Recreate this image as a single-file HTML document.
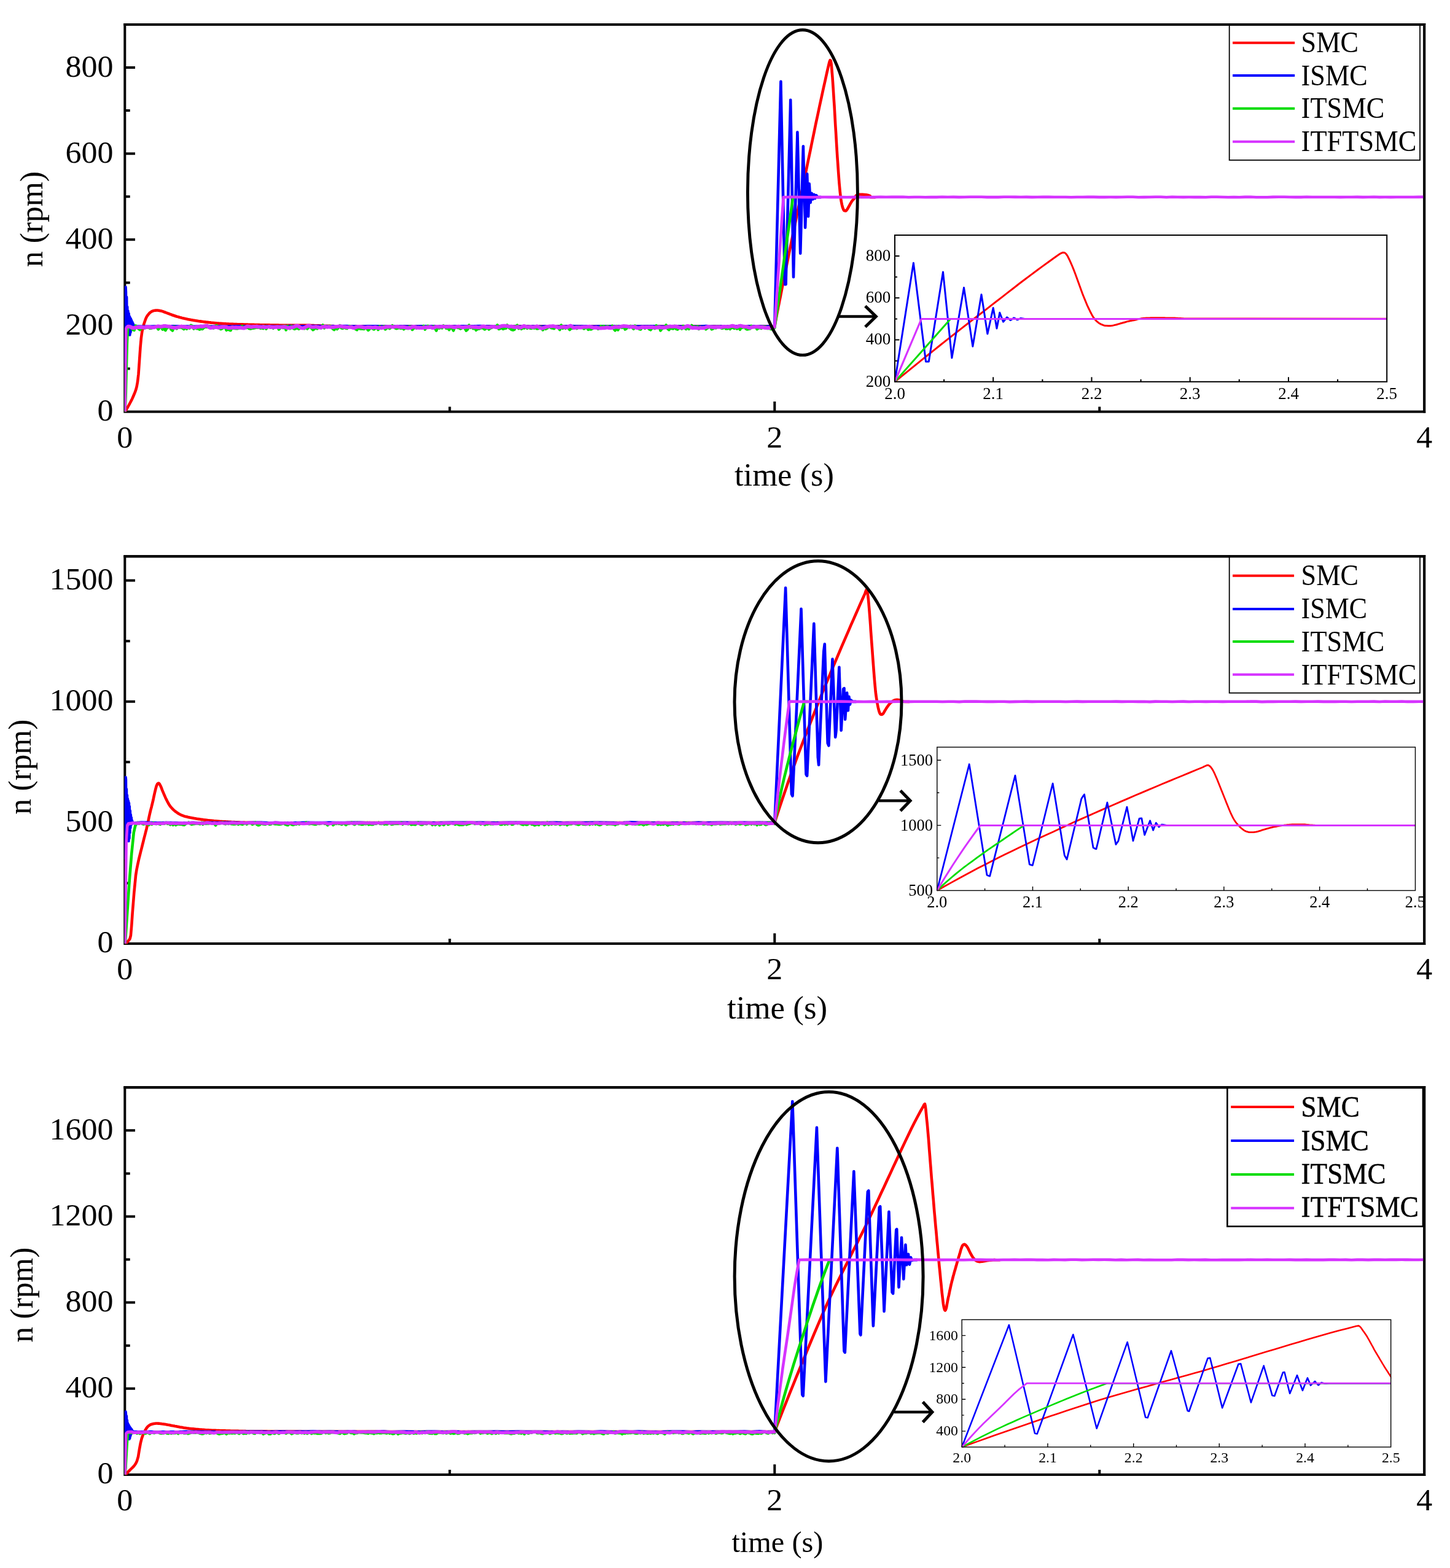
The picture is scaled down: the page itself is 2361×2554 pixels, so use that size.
<!DOCTYPE html>
<html lang="en">
<head>
<meta charset="utf-8">
<title>Speed response comparison: SMC, ISMC, ITSMC, ITFTSMC</title>
<style>
html,body{margin:0;padding:0;background:#fff;}
body{width:2361px;height:2554px;overflow:hidden;font-family:"Liberation Serif",serif;}
svg{display:block;position:absolute;left:0;top:0;}
text{fill:#000;}
</style>
</head>
<body>
<svg width="2361" height="2554" viewBox="0 0 2361 2554">
<rect width="2361" height="2554" fill="#fff"/>
<g id="plot1">
<rect x="203.3" y="40" width="2116" height="630.6" fill="none" stroke="#000" stroke-width="4"/>
<path d="M203.3,530.5h16.7M203.3,390.3h16.7M203.3,250.2h16.7M203.3,110.1h16.7M203.3,600.5h8.4M203.3,460.4h8.4M203.3,320.3h8.4M203.3,180.1h8.4M1261.3,670.6v-16.7M732.3,670.6v-8.0M1790.3,670.6v-8.0" stroke="#000" stroke-width="4" fill="none"/>
<clipPath id="c0"><rect x="202.7" y="40" width="2116.4" height="631"/></clipPath>
<g clip-path="url(#c0)" fill="none" stroke-linejoin="round" stroke-linecap="butt">
<path d="M203.3,670.7 204.8,668.5 206.3,666.1 207.8,663.6 209.2,661 210.7,658.3 212.2,655.5 213.7,652.6 215.2,649.7 216.6,646.5 218.1,643 219.6,639.4 221.1,635.3 222.6,629.8 224,622.2 225.5,609.2 227,587.3 228.5,565.9 229.9,550.5 231.4,539.7 232.9,532.8 234.4,527.6 235.9,523.3 237.3,519.2 238.8,516.1 240.3,513.8 241.8,511.9 243.2,510.2 244.7,508.8 246.2,507.8 247.7,507 249.2,506.4 250.6,506 252.1,505.8 253.6,505.6 255.1,505.5 256.6,505.5 258,505.7 259.5,505.9 261,506.2 262.5,506.5 263.9,506.9 265.4,507.4 266.9,508 268.4,508.5 269.9,509.1 271.3,509.6 272.8,510.2 274.3,510.8 275.8,511.3 277.3,511.9 278.7,512.4 280.2,513 281.7,513.5 283.2,514 284.6,514.5 286.1,515 287.6,515.5 289.1,515.9 290.6,516.3 292,516.7 293.5,517.1 295,517.5 296.5,517.9 297.9,518.2 299.4,518.6 300.9,518.9 302.4,519.3 303.9,519.6 305.3,519.9 306.8,520.2 308.3,520.5 309.8,520.8 311.3,521.1 312.7,521.3 314.2,521.6 315.7,521.8 317.2,522.1 318.6,522.3 320.1,522.5 321.6,522.7 323.1,523 324.6,523.2 326,523.4 327.5,523.6 329,523.8 330.5,524 332,524.2 333.4,524.4 334.9,524.6 336.4,524.8 337.9,524.9 339.3,525.1 340.8,525.3 342.3,525.4 343.8,525.6 345.3,525.7 346.7,525.8 348.2,526 349.7,526.1 351.2,526.2 352.6,526.4 354.1,526.5 355.6,526.6 357.1,526.7 358.6,526.8 360,526.9 361.5,527 363,527.1 364.5,527.2 366,527.3 367.4,527.4 368.9,527.5 370.4,527.5 371.9,527.6 373.3,527.7 374.8,527.7 376.3,527.8 377.8,527.8 379.3,527.9 380.7,528 382.2,528 383.7,528.1 385.2,528.1 386.7,528.2 388.1,528.2 389.6,528.2 391.1,528.3 392.6,528.3 394,528.4 395.5,528.4 397,528.5 398.5,528.5 400,528.5 401.4,528.6 402.9,528.6 404.4,528.7 405.9,528.7 407.4,528.8 408.8,528.8 410.3,528.9 411.8,528.9 413.3,528.9 414.7,529 416.2,529 417.7,529 419.2,529.1 420.7,529.1 422.1,529.1 423.6,529.2 425.1,529.2 426.6,529.2 428,529.3 429.5,529.3 431,529.3 432.5,529.3 434,529.4 435.4,529.4 436.9,529.4 438.4,529.4 439.9,529.5 441.4,529.5 442.8,529.5 444.3,529.5 445.8,529.6 447.3,529.6 448.7,529.6 450.2,529.6 451.7,529.6 453.2,529.6 454.7,529.7 456.1,529.7 457.6,529.7 459.1,529.7 460.6,529.7 462.1,529.7 463.5,529.7 465,529.7 466.5,529.7 468,529.7 469.4,529.7 470.9,529.7 472.4,529.8 473.9,529.8 475.4,529.8 476.8,529.8 478.3,529.8 479.8,529.8 481.3,529.8 482.7,529.8 484.2,529.8 485.7,529.8 487.2,529.8 488.7,529.8 490.1,529.8 491.6,529.9 493.1,529.9 494.6,529.9 496.1,529.9 497.5,529.9 499,529.9 500.5,529.9 502,529.9 503.4,529.9 504.9,529.9 506.4,530 507.9,530 509.4,530.1 510.8,530.1 512.3,530.2 513.8,530.2 515.3,530.3 516.8,530.3 518.2,530.4 519.7,530.4 521.2,530.5 522.7,530.5 524.1,530.5 525.6,530.6 527.1,530.6 528.6,530.7 530.1,530.7 531.5,530.8 533,530.8 534.5,530.9 536,530.9 537.4,530.9 538.9,531 540.4,531 541.9,531.1 543.4,531.1 544.8,531.2 546.3,531.2 547.8,531.2 549.3,531.3 550.8,531.3 552.2,531.4 553.7,531.4 555.2,531.5 556.7,531.5 1261.3,531.5 1264.4,515 1267.4,499.6 1270.5,484.2 1273.5,468.9 1276.6,453.7 1279.6,438.4 1282.7,423.3 1285.7,408.2 1288.8,393.2 1291.8,378.2 1294.9,363.2 1297.9,348.4 1301,333.6 1304,318.9 1307.1,304.3 1310.1,289.7 1313.2,275 1316.2,260.4 1319.3,245.7 1322.3,230.9 1325.4,216 1328.4,201.3 1331.5,186.9 1334.5,172.6 1337.6,158.5 1340.6,144.6 1343.7,130.7 1346.7,117.1 1349.8,103.7 1349.8,103.7 1350.4,101.3 1351,99.6 1351.6,98.2 1352.3,98.4 1352.9,100 1353.5,103.9 1354.1,109.4 1354.7,117 1355.4,125.1 1356,133.6 1356.6,142.7 1357.2,152.1 1357.8,161.9 1358.5,172 1359.1,182.7 1359.7,193.6 1360.3,204.4 1361,215 1361.6,225.5 1362.2,235.9 1362.8,245.9 1363.4,255.5 1364.1,264.8 1364.7,273.8 1365.3,282.3 1365.9,290.4 1366.5,298.4 1367.2,305.7 1367.8,312.3 1368.4,317.8 1369,322.8 1369.6,327 1370.3,330.5 1370.9,333.5 1371.5,336 1372.1,338 1372.7,339.7 1373.4,341.3 1374,342.4 1374.6,343 1375.2,343.2 1375.9,343.3 1376.5,343.4 1377.1,343.5 1377.7,343.1 1378.3,342.5 1379,341.6 1379.6,340.8 1380.2,339.9 1380.8,338.8 1381.4,337.7 1382.1,336.5 1382.7,335.4 1383.3,334.3 1383.9,333.2 1384.5,332.1 1385.2,330.9 1385.8,329.9 1386.4,328.8 1387,327.9 1387.6,327.1 1388.3,326.3 1388.9,325.6 1389.5,324.9 1390.1,324.2 1390.8,323.4 1391.4,322.3 1392,321.2 1392.6,320.3 1393.2,319.5 1393.9,318.7 1394.5,318.2 1395.1,317.8 1395.7,317.6 1396.3,317.4 1397,317.3 1397.6,317.1 1398.2,317 1398.8,316.9 1399.4,316.8 1400.1,316.8 1400.7,316.8 1401.3,316.8 1401.9,316.8 1402.6,316.8 1403.2,316.8 1403.8,316.8 1404.4,316.8 1405,316.9 1405.7,316.9 1406.3,317 1406.9,317 1407.5,317.1 1408.1,317.1 1408.8,317.2 1409.4,317.2 1410,317.3 1410.6,317.3 1411.2,317.4 1411.9,317.6 1412.5,317.7 1413.1,317.9 1413.7,318 1414.3,318.2 1415,318.4 1415.6,318.6 1416.2,318.9 1416.8,319.1 1417.5,321.2 1425.5,321.2" stroke="#ff0000" stroke-width="4.6" />
<path d="M204.1,591.5 204.5,467.5 204.9,475.7 205.5,532.7 206.1,483.9 206.6,533.6 207.2,499.7 207.8,536.1 208.4,506.6 209,540.8 209.6,510.9 210.1,545.2 210.7,515.2 211.3,545.5 211.9,517.6 212.5,541.4 213.1,519.9 213.6,536.6 214.2,522.2 214.8,533.8 215.4,524.7 216,532.8 216.6,527.3 217.1,532.5 217.7,530 218.3,532.5 219.8,531.5 232,531.8 244.3,531.8 256.5,531.4 268.8,531.4 281,531.4 293.2,531.6 305.5,531.5 317.7,531.7 330,531 342.2,531.9 354.5,531.5 366.7,531.7 378.9,531.5 391.2,531.4 403.4,531.6 415.7,531.7 427.9,531.4 440.1,531.5 452.4,531.7 464.6,531.3 476.9,531.1 489.1,531.6 501.3,531.3 513.6,531 525.8,531.3 538.1,531.4 550.3,531.2 562.6,531.1 574.8,531.5 587,531.7 599.3,531.4 611.5,531.3 623.8,531.6 636,531.7 648.2,531.4 660.5,531.6 672.7,531.8 685,531.4 697.2,531.3 709.4,531.6 721.7,531.6 733.9,531.8 746.2,531.2 758.4,531.3 770.7,531.3 782.9,531.1 795.1,531.5 807.4,531.6 819.6,531.3 831.9,531.8 844.1,531.7 856.3,531.7 868.6,531.6 880.8,531.7 893.1,531.2 905.3,531.7 917.5,531.7 929.8,531.1 942,531.6 954.3,531.4 966.5,531.7 978.8,531.4 991,531.5 1003.2,531.6 1015.5,531.3 1027.7,531.6 1040,531.5 1052.2,531.6 1064.4,531.4 1076.7,531.8 1088.9,531.7 1101.2,531.5 1113.4,531.7 1125.6,531.8 1137.9,531.9 1150.1,531.1 1162.4,531.7 1174.6,531.6 1186.9,531.5 1199.1,531.2 1211.3,531.8 1223.6,531.2 1235.8,531.6 1248.1,531.8 1260.3,531.1 1261.3,531.5 1271.1,143 1271.4,132.7 1271.6,145.7 1277.7,450 1278,463.1 1278.2,463.2 1279.3,463.2 1279.6,463.1 1279.8,452.8 1287,173 1287.2,162.8 1287.5,178.7 1291.7,435.3 1292,451.1 1292.2,441.6 1298.2,224.8 1298.4,215.3 1298.7,226.1 1302.9,401.8 1303.2,412.6 1303.5,402.8 1307.6,248.2 1307.9,238.4 1308.1,249 1310.9,360 1311.1,370.6 1311.4,363.2 1313.9,290.7 1314.2,283.3 1314.5,292.8 1315.8,342.9 1316.1,352.4 1316.4,343.6 1317.4,308.1 1317.7,299.3 1318,303.5 1319.3,325.8 1319.6,330 1319.9,328 1321.3,316.7 1321.6,314.7 1321.9,316.1 1323.2,323.1 1323.5,324.5 1323.7,323.4 1325,317.9 1325.3,316.8 1325.6,317.7 1326.9,322.2 1327.2,323.1 1327.4,322.4 1328.7,318.9 1329,318.2 1329.3,318.4 1331.1,321.1 1337.1,321.1" stroke="#0000ff" stroke-width="4.6" />
<path d="M203.6,670.6 204.8,640 206.8,560 207.8,536 209.3,533.4 211.6,531.4 213.9,534.5 216.2,537 218.5,537.9 220.8,530.5 223.2,532.9 225.5,535.4 227.8,537.1 230.1,534.8 232.4,532.5 234.7,534.6 237,534 239.3,533.6 241.6,532.6 243.9,534.8 246.3,534.6 248.6,533.8 250.9,533.6 253.2,531.5 255.5,533.1 257.8,536.4 260.1,533.6 262.4,531.2 264.7,536.6 267,535 269.4,538.1 271.7,534.1 274,533.1 276.3,531.2 278.6,536.6 280.9,538.5 283.2,532.4 285.5,532.7 287.8,535.2 290.1,532.4 292.5,533.5 294.8,533.3 297.1,534.4 299.4,536.1 301.7,534 304,535.8 306.3,533.2 308.6,534.6 310.9,529.8 313.2,531.2 315.6,535.6 317.9,532.8 320.2,535.1 322.5,535.1 324.8,536.6 327.1,535.6 329.4,536 331.7,533.8 334,532.6 336.3,532.6 338.7,533 341,531.8 343.3,532.9 345.6,533.8 347.9,534.5 350.2,533.3 352.5,530.2 354.8,533.9 357.1,534.4 359.4,536.1 361.8,535.1 364.1,532.7 366.4,532.6 368.7,537.9 371,535.5 373.3,537.6 375.6,538.2 377.9,532.4 380.2,534.8 382.5,534.9 384.9,535.1 387.2,535.1 389.5,534.4 391.8,534.3 394.1,531.1 396.4,533.7 398.7,532.5 401,534.2 403.3,533.1 405.6,535.2 408,535.6 410.3,534.6 412.6,534.6 414.9,534.2 417.2,533.1 419.5,533.7 421.8,533 424.1,534.8 426.4,534 428.7,535.1 431,531.4 433.4,535.7 435.7,532.5 438,532.6 440.3,533.6 442.6,532.9 444.9,534.6 447.2,532.9 449.5,531.9 451.8,532.4 454.1,536.6 456.5,534.1 458.8,531.7 461.1,534 463.4,531 465.7,537.5 468,531 470.3,534.9 472.6,535.1 474.9,531.2 477.2,534.6 479.6,535.9 481.9,534.9 484.2,534.5 486.5,535.9 488.8,534.3 491.1,534.7 493.4,533.8 495.7,535.2 498,532.2 500.3,535.5 502.7,533 505,531.9 507.3,534.7 509.6,537.3 511.9,535.9 514.2,533 516.5,535.4 518.8,533.1 521.1,533.8 523.4,534.2 525.8,529.5 528.1,534.4 530.4,532 532.7,532.6 535,531.1 537.3,531 539.6,532.2 541.9,535.6 544.2,537.2 546.5,534 548.9,536.1 551.2,533.5 553.5,530.3 555.8,534.3 558.1,534.9 560.4,533.2 562.7,534.6 565,535.1 567.3,532.3 569.6,531.1 572,533.6 574.3,533.6 576.6,533.3 578.9,535.9 581.2,537.4 583.5,533.2 585.8,535.4 588.1,535.8 590.4,535.4 592.7,536 595.1,533.2 597.4,535.4 599.7,537.9 602,535.6 604.3,532.8 606.6,535.2 608.9,536.5 611.2,534.7 613.5,532.9 615.8,537 618.2,531.6 620.5,535 622.8,534 625.1,531.7 627.4,536.4 629.7,534.7 632,531.7 634.3,535.2 636.6,533.2 638.9,530.3 641.2,532.7 643.6,534.5 645.9,535.2 648.2,534.3 650.5,534.1 652.8,534.9 655.1,533.6 657.4,536.3 659.7,534.3 662,534.6 664.3,535.1 666.7,531.9 669,532.6 671.3,537 673.6,534.7 675.9,533.4 678.2,534.7 680.5,533.1 682.8,534.5 685.1,532.7 687.4,534.5 689.8,530.9 692.1,536.6 694.4,533 696.7,530.9 699,533.6 701.3,533.3 703.6,534.3 705.9,531.8 708.2,534.8 710.5,538.5 712.9,531.5 715.2,534.7 717.5,533.4 719.8,534.4 722.1,530.5 724.4,531.8 726.7,534.9 729,533.9 731.3,537.2 733.6,532.6 736,534.3 738.3,538.5 740.6,532.5 742.9,532.2 745.2,533.9 747.5,533.9 749.8,535.6 752.1,534.3 754.4,532.5 756.7,534.4 759.1,538.5 761.4,536.5 763.7,529.5 766,533.7 768.3,532.3 770.6,535.2 772.9,533.7 775.2,537.8 777.5,535.8 779.8,535.7 782.2,534.4 784.5,533.9 786.8,534.7 789.1,536.5 791.4,535 793.7,533.3 796,536.5 798.3,534.4 800.6,533.8 802.9,532.5 805.3,532.9 807.6,532.8 809.9,529.5 812.2,536 814.5,535.1 816.8,533.6 819.1,536 821.4,534.9 823.7,534.7 826,529.5 828.4,533.5 830.7,535 833,537.1 835.3,537.6 837.6,536.8 839.9,531.7 842.2,529.7 844.5,535.1 846.8,534.1 849.1,535.9 851.4,533.8 853.8,534.4 856.1,531.1 858.4,534.9 860.7,533.1 863,534.7 865.3,534.9 867.6,533.8 869.9,534.6 872.2,534 874.5,535.5 876.9,535 879.2,532.9 881.5,532.9 883.8,537.4 886.1,533.8 888.4,535.9 890.7,534.8 893,532.9 895.3,532.5 897.6,534.2 900,534.5 902.3,535.2 904.6,531.5 906.9,532.8 909.2,533.8 911.5,537.1 913.8,529.5 916.1,534.9 918.4,532.9 920.7,534.8 923.1,533 925.4,534.7 927.7,537.1 930,534.7 932.3,534.8 934.6,534.7 936.9,532.5 939.2,535.1 941.5,533.6 943.8,532.4 946.2,533.9 948.5,533.6 950.8,535.5 953.1,533.9 955.4,533 957.7,536.8 960,535.9 962.3,536.5 964.6,535.2 966.9,533.8 969.3,533.2 971.6,533.5 973.9,535.8 976.2,534.2 978.5,531.1 980.8,533.9 983.1,531.2 985.4,534.3 987.7,531.7 990,531.5 992.4,534.2 994.7,533.8 997,530.8 999.3,535.5 1001.6,538.2 1003.9,531.1 1006.2,537.5 1008.5,532.7 1010.8,533 1013.1,533.7 1015.5,531.2 1017.8,536.5 1020.1,535 1022.4,532.5 1024.7,533.5 1027,531 1029.3,533.3 1031.6,535.8 1033.9,530.7 1036.2,533.1 1038.6,534.3 1040.9,536 1043.2,536.6 1045.5,533.1 1047.8,532.6 1050.1,534.9 1052.4,533.3 1054.7,533.4 1057,536.1 1059.3,537.3 1061.6,534.5 1064,533.6 1066.3,535.1 1068.6,530.3 1070.9,534 1073.2,531.9 1075.5,538.5 1077.8,535.4 1080.1,534.3 1082.4,533.6 1084.7,529.5 1087.1,535.4 1089.4,537.2 1091.7,532.6 1094,535.3 1096.3,535.4 1098.6,531 1100.9,535.8 1103.2,536.6 1105.5,534.4 1107.8,533.9 1110.2,535.5 1112.5,531 1114.8,534.2 1117.1,536.1 1119.4,531.6 1121.7,535.9 1124,533.2 1126.3,529.9 1128.6,533.8 1130.9,532.1 1133.3,534.6 1135.6,531.7 1137.9,536 1140.2,532.6 1142.5,534.7 1144.8,532.8 1147.1,533.4 1149.4,536.3 1151.7,534.4 1154,533.2 1156.4,531.6 1158.7,536.3 1161,535.4 1163.3,533.4 1165.6,534.5 1167.9,532 1170.2,532 1172.5,532.4 1174.8,534.7 1177.1,534.6 1179.5,532.5 1181.8,535.4 1184.1,535.5 1186.4,534.3 1188.7,536 1191,533.4 1193.3,533.8 1195.6,534.9 1197.9,533.9 1200.2,535.5 1202.6,531.6 1204.9,536.8 1207.2,532.5 1209.5,533.7 1211.8,531.3 1214.1,535.2 1216.4,536.5 1218.7,536.1 1221,535.6 1223.3,531 1225.7,532.5 1228,533.1 1230.3,532.2 1232.6,536.2 1234.9,534.4 1237.2,534 1239.5,535 1241.8,532.1 1244.1,532.2 1246.4,532.3 1248.8,535 1251.1,534.7 1253.4,535.1 1255.7,536.1 1258,531.4 1260.3,532.9 1261.3,534 1291.2,321.1 1297.2,321.1" stroke="#00dc00" stroke-width="4.6" />
<path d="M203.5,670.6 204.2,600 205.3,535 206.8,532.2 209.4,531.8 212,532.2 214.6,533.5 217.2,534.2 219.8,533.8 222.4,533.1 225.1,533.1 227.7,533.1 230.3,533.1 232.9,533.3 235.5,533.5 238.1,532.8 240.7,532.2 243.3,532.7 245.9,533.2 248.5,533.3 251.1,533.2 253.7,532.4 256.3,531.6 259,531.6 261.6,532 264.2,531.7 266.8,531 269.4,531 272,531.6 274.6,531.8 277.2,532.1 279.8,533.1 282.4,533.7 285,533.9 287.6,533.5 290.2,532.9 292.9,532.1 295.5,531.6 298.1,532.4 300.7,532.2 303.3,532.9 305.9,533.2 308.5,532.7 311.1,532.1 313.7,532.9 316.3,533.6 318.9,533.3 321.5,532.1 324.1,532.2 326.8,531.4 329.4,532.1 332,531.5 334.6,530.7 337.2,530.6 339.8,532.8 342.4,533.9 345,533.7 347.6,533 350.2,533 352.8,532.8 355.4,533.6 358,533.4 360.7,532.9 363.3,532.6 365.9,532.5 368.5,532.7 371.1,533.9 373.7,534.1 376.3,533.7 378.9,533.3 381.5,533.4 384.1,533.3 386.7,533.6 389.3,533.6 391.9,533.6 394.6,534.3 397.2,534.5 399.8,533.2 402.4,531.6 405,531.7 407.6,532.3 410.2,532.7 412.8,531.9 415.4,532.1 418,531.6 420.6,532.6 423.2,532.6 425.8,532.8 428.5,532.1 431.1,533.1 433.7,532.7 436.3,532.4 438.9,532 441.5,532.8 444.1,533.1 446.7,533 449.3,532.7 451.9,532.5 454.5,532.8 457.1,532.8 459.7,532.6 462.4,532.3 465,532.6 467.6,533.9 470.2,534 472.8,533.5 475.4,533.3 478,532.8 480.6,531.4 483.2,530.6 485.8,531.2 488.4,533.2 491,534.2 493.6,534.5 496.3,533.5 498.9,532 501.5,530.6 504.1,530.7 506.7,532.4 509.3,532.7 511.9,532.5 514.5,532.1 517.1,532.8 519.7,533.3 522.3,533.7 524.9,532.4 527.5,532.1 530.2,532.2 532.8,532.8 535.4,532.2 538,532.7 540.6,532.7 543.2,532.9 545.8,532.1 548.4,532.1 551,531.6 553.6,531.6 556.2,531.6 558.8,532.6 561.4,532.4 564.1,533 566.7,533 569.3,532.8 571.9,532.5 574.5,533.7 577.1,534.2 579.7,532.9 582.3,532.1 584.9,532 587.5,532.2 590.1,532.9 592.7,533.6 595.3,533.7 598,533.1 600.6,532.9 603.2,533.2 605.8,533.5 608.4,533.4 611,532.9 613.6,533.6 616.2,534.3 618.8,533.9 621.4,533.7 624,533.8 626.6,533.1 629.2,532.4 631.9,532.2 634.5,532.3 637.1,532.2 639.7,532.6 642.3,532.4 644.9,532 647.5,531.8 650.1,532.6 652.7,532.8 655.3,532.5 657.9,532.9 660.5,533.4 663.1,533.9 665.8,533.9 668.4,534 671,532.6 673.6,532 676.2,532.6 678.8,533.7 681.4,533.6 684,533.7 686.6,534 689.2,533.6 691.8,533.3 694.4,533.1 697,533.2 699.7,532.3 702.3,533.1 704.9,534.1 707.5,533.3 710.1,532.1 712.7,531.9 715.3,532.6 717.9,532.3 720.5,531.7 723.1,532 725.7,532.2 728.3,532.4 730.9,531.8 733.5,531.9 736.2,532.3 738.8,533 741.4,533 744,532.1 746.6,531.7 749.2,532.4 751.8,533.1 754.4,533.3 757,532.7 759.6,532.5 762.2,532.5 764.8,531.9 767.4,532.4 770.1,532.5 772.7,532.7 775.3,532.6 777.9,533.3 780.5,533.4 783.1,532.6 785.7,531.7 788.3,531.6 790.9,532.6 793.5,533.1 796.1,533.3 798.7,532.6 801.3,532.3 804,532 806.6,532.7 809.2,533.2 811.8,532.8 814.4,532.1 817,531 819.6,530.7 822.2,530.7 824.8,530.9 827.4,531.5 830,532 832.6,531.6 835.2,532.3 837.9,532.9 840.5,532.7 843.1,532.2 845.7,533.4 848.3,533.4 850.9,531.9 853.5,530.9 856.1,532 858.7,532.8 861.3,532.7 863.9,532.1 866.5,532.9 869.1,532.8 871.8,532.3 874.4,531.3 877,532.7 879.6,534.1 882.2,534.8 884.8,534 887.4,533.3 890,532.1 892.6,531.9 895.2,531.4 897.8,531.5 900.4,531.1 903,531.6 905.7,532.4 908.3,533.2 910.9,533.5 913.5,532.7 916.1,532.6 918.7,532.6 921.3,533.4 923.9,532.9 926.5,531.5 929.1,530.6 931.7,532.2 934.3,533.9 936.9,533.8 939.6,533.2 942.2,533.3 944.8,533.6 947.4,533 950,532.6 952.6,532.6 955.2,532.6 957.8,531.9 960.4,531.8 963,532.7 965.6,533.6 968.2,533.7 970.8,533.5 973.5,534.3 976.1,534.5 978.7,534.4 981.3,534.3 983.9,534.3 986.5,533.7 989.1,533.3 991.7,534.1 994.3,534.3 996.9,533.8 999.5,533.1 1002.1,532.4 1004.7,532.5 1007.4,532.7 1010,532.3 1012.6,531.5 1015.2,531.1 1017.8,531.2 1020.4,531.4 1023,531.9 1025.6,532.6 1028.2,532.3 1030.8,532.4 1033.4,532.5 1036,533.8 1038.6,534.2 1041.3,534 1043.9,533.3 1046.5,532.8 1049.1,533.2 1051.7,533.1 1054.3,533.1 1056.9,532.7 1059.5,533 1062.1,532.7 1064.7,533.6 1067.3,533.5 1069.9,533.4 1072.5,532.7 1075.2,533.2 1077.8,533.4 1080.4,533.4 1083,533.6 1085.6,532.8 1088.2,532.3 1090.8,531.5 1093.4,532.1 1096,531.8 1098.6,531.7 1101.2,531.6 1103.8,532.9 1106.4,533.7 1109.1,533.8 1111.7,533.7 1114.3,533.2 1116.9,531.9 1119.5,530.9 1122.1,531.5 1124.7,532.9 1127.3,534.2 1129.9,533.9 1132.5,533.9 1135.1,534.2 1137.7,534.8 1140.3,534 1143,534.3 1145.6,534.3 1148.2,533.6 1150.8,532.5 1153.4,532 1156,532.2 1158.6,532.4 1161.2,533 1163.8,533 1166.4,532.6 1169,532.8 1171.6,532.6 1174.2,533.1 1176.9,532.1 1179.5,532.3 1182.1,531.9 1184.7,532.4 1187.3,532.1 1189.9,531.4 1192.5,530.7 1195.1,531.2 1197.7,532.5 1200.3,532.5 1202.9,531.2 1205.5,530.6 1208.1,531.2 1210.8,532 1213.4,531.9 1216,532.3 1218.6,533.3 1221.2,534 1223.8,533.2 1226.4,532.5 1229,532.3 1231.6,532 1234.2,532.2 1236.8,532.7 1239.4,532.9 1242,533.1 1244.7,533.7 1247.3,534.1 1249.9,534.1 1252.5,534.1 1255.1,533.1 1257.7,532.1 1260.3,531.9 1261.3,532.7 1275.6,321 1278.6,321.2 1287.7,320.9 1296.8,321 1306,321.1 1315.1,321.2 1324.2,321.2 1333.4,321.1 1342.5,321 1351.6,321.1 1360.7,321.1 1369.9,321 1379,321.2 1388.1,321.1 1397.3,320.9 1406.4,321.2 1415.5,321 1424.6,321.1 1433.8,320.8 1442.9,321 1452,320.9 1461.2,320.9 1470.3,320.7 1479.4,321.3 1488.6,321 1497.7,321 1506.8,321.2 1515.9,321 1525.1,321.1 1534.2,320.8 1543.3,321 1552.5,320.9 1561.6,321.1 1570.7,321 1579.8,320.8 1589,320.7 1598.1,320.8 1607.2,321.1 1616.4,321.1 1625.5,321.1 1634.6,320.7 1643.7,320.7 1652.9,320.9 1662,321 1671.1,320.9 1680.3,321.1 1689.4,321 1698.5,320.8 1707.7,320.9 1716.8,321 1725.9,321 1735,321 1744.2,321.3 1753.3,321 1762.4,321 1771.6,320.9 1780.7,320.9 1789.8,321.1 1798.9,321.1 1808.1,321 1817.2,321.1 1826.3,321 1835.5,320.7 1844.6,320.7 1853.7,321.3 1862.8,321.1 1872,321 1881.1,320.7 1890.2,320.8 1899.4,321.2 1908.5,320.7 1917.6,321 1926.7,321.1 1935.9,321 1945,321.1 1954.1,321 1963.3,321.3 1972.4,320.8 1981.5,320.8 1990.7,321 1999.8,321.2 2008.9,321 2018,321.2 2027.2,320.9 2036.3,320.8 2045.4,321.2 2054.6,321.2 2063.7,321.2 2072.8,320.9 2081.9,320.8 2091.1,320.8 2100.2,321 2109.3,321.1 2118.5,321.1 2127.6,320.8 2136.7,321 2145.8,321 2155,321 2164.1,321 2173.2,321 2182.4,321.1 2191.5,321 2200.6,321 2209.8,320.9 2218.9,321.1 2228,321 2237.1,320.7 2246.3,321.1 2255.4,321 2264.5,321.1 2273.7,321 2282.8,321 2291.9,321 2301,321 2310.2,320.9 2319.3,320.7" stroke="#d633ff" stroke-width="4.6" />
<path d="M206.8,532.2 209.4,531.8 212,532.2 214.6,533.5 217.2,534.2 219.8,533.8 222.4,533.1 225.1,533.1 227.7,533.1 230.3,533.1 232.9,533.3 235.5,533.5 238.1,532.8 240.7,532.2 243.3,532.7 245.9,533.2 248.5,533.3 251.1,533.2 253.7,532.4 256.3,531.6 259,531.6 261.6,532 264.2,531.7 266.8,531 269.4,531 272,531.6 274.6,531.8 277.2,532.1 279.8,533.1 282.4,533.7 285,533.9 287.6,533.5 290.2,532.9 292.9,532.1 295.5,531.6 298.1,532.4 300.7,532.2 303.3,532.9 305.9,533.2 308.5,532.7 311.1,532.1 313.7,532.9 316.3,533.6 318.9,533.3 321.5,532.1 324.1,532.2 326.8,531.4 329.4,532.1 332,531.5 334.6,530.7 337.2,530.6 339.8,532.8 342.4,533.9 345,533.7 347.6,533 350.2,533 352.8,532.8 355.4,533.6 358,533.4 360.7,532.9 363.3,532.6 365.9,532.5 368.5,532.7 371.1,533.9 373.7,534.1 376.3,533.7 378.9,533.3 381.5,533.4 384.1,533.3 386.7,533.6 389.3,533.6 391.9,533.6 394.6,534.3 397.2,534.5 399.8,533.2 402.4,531.6 405,531.7 407.6,532.3 410.2,532.7 412.8,531.9 415.4,532.1 418,531.6 420.6,532.6 423.2,532.6 425.8,532.8 428.5,532.1 431.1,533.1 433.7,532.7 436.3,532.4 438.9,532 441.5,532.8 444.1,533.1 446.7,533 449.3,532.7 451.9,532.5 454.5,532.8 457.1,532.8 459.7,532.6 462.4,532.3 465,532.6 467.6,533.9 470.2,534 472.8,533.5 475.4,533.3 478,532.8 480.6,531.4 483.2,530.6 485.8,531.2 488.4,533.2 491,534.2 493.6,534.5 496.3,533.5 498.9,532 501.5,530.6 504.1,530.7 506.7,532.4 509.3,532.7 511.9,532.5 514.5,532.1 517.1,532.8 519.7,533.3 522.3,533.7 524.9,532.4 527.5,532.1 530.2,532.2 532.8,532.8 535.4,532.2 538,532.7 540.6,532.7 543.2,532.9 545.8,532.1 548.4,532.1 551,531.6 553.6,531.6 556.2,531.6 558.8,532.6 561.4,532.4 564.1,533 566.7,533 569.3,532.8 571.9,532.5 574.5,533.7 577.1,534.2 579.7,532.9 582.3,532.1 584.9,532 587.5,532.2 590.1,532.9 592.7,533.6 595.3,533.7 598,533.1 600.6,532.9 603.2,533.2 605.8,533.5 608.4,533.4 611,532.9 613.6,533.6 616.2,534.3 618.8,533.9 621.4,533.7 624,533.8 626.6,533.1 629.2,532.4 631.9,532.2 634.5,532.3 637.1,532.2 639.7,532.6 642.3,532.4 644.9,532 647.5,531.8 650.1,532.6 652.7,532.8 655.3,532.5 657.9,532.9 660.5,533.4 663.1,533.9 665.8,533.9 668.4,534 671,532.6 673.6,532 676.2,532.6 678.8,533.7 681.4,533.6 684,533.7 686.6,534 689.2,533.6 691.8,533.3 694.4,533.1 697,533.2 699.7,532.3 702.3,533.1 704.9,534.1 707.5,533.3 710.1,532.1 712.7,531.9 715.3,532.6 717.9,532.3 720.5,531.7 723.1,532 725.7,532.2 728.3,532.4 730.9,531.8 733.5,531.9 736.2,532.3 738.8,533 741.4,533 744,532.1 746.6,531.7 749.2,532.4 751.8,533.1 754.4,533.3 757,532.7 759.6,532.5 762.2,532.5 764.8,531.9 767.4,532.4 770.1,532.5 772.7,532.7 775.3,532.6 777.9,533.3 780.5,533.4 783.1,532.6 785.7,531.7 788.3,531.6 790.9,532.6 793.5,533.1 796.1,533.3 798.7,532.6 801.3,532.3 804,532 806.6,532.7 809.2,533.2 811.8,532.8 814.4,532.1 817,531 819.6,530.7 822.2,530.7 824.8,530.9 827.4,531.5 830,532 832.6,531.6 835.2,532.3 837.9,532.9 840.5,532.7 843.1,532.2 845.7,533.4 848.3,533.4 850.9,531.9 853.5,530.9 856.1,532 858.7,532.8 861.3,532.7 863.9,532.1 866.5,532.9 869.1,532.8 871.8,532.3 874.4,531.3 877,532.7 879.6,534.1 882.2,534.8 884.8,534 887.4,533.3 890,532.1 892.6,531.9 895.2,531.4 897.8,531.5 900.4,531.1 903,531.6 905.7,532.4 908.3,533.2 910.9,533.5 913.5,532.7 916.1,532.6 918.7,532.6 921.3,533.4 923.9,532.9 926.5,531.5 929.1,530.6 931.7,532.2 934.3,533.9 936.9,533.8 939.6,533.2 942.2,533.3 944.8,533.6 947.4,533 950,532.6 952.6,532.6 955.2,532.6 957.8,531.9 960.4,531.8 963,532.7 965.6,533.6 968.2,533.7 970.8,533.5 973.5,534.3 976.1,534.5 978.7,534.4 981.3,534.3 983.9,534.3 986.5,533.7 989.1,533.3 991.7,534.1 994.3,534.3 996.9,533.8 999.5,533.1 1002.1,532.4 1004.7,532.5 1007.4,532.7 1010,532.3 1012.6,531.5 1015.2,531.1 1017.8,531.2 1020.4,531.4 1023,531.9 1025.6,532.6 1028.2,532.3 1030.8,532.4 1033.4,532.5 1036,533.8 1038.6,534.2 1041.3,534 1043.9,533.3 1046.5,532.8 1049.1,533.2 1051.7,533.1 1054.3,533.1 1056.9,532.7 1059.5,533 1062.1,532.7 1064.7,533.6 1067.3,533.5 1069.9,533.4 1072.5,532.7 1075.2,533.2 1077.8,533.4 1080.4,533.4 1083,533.6 1085.6,532.8 1088.2,532.3 1090.8,531.5 1093.4,532.1 1096,531.8 1098.6,531.7 1101.2,531.6 1103.8,532.9 1106.4,533.7 1109.1,533.8 1111.7,533.7 1114.3,533.2 1116.9,531.9 1119.5,530.9 1122.1,531.5 1124.7,532.9 1127.3,534.2 1129.9,533.9 1132.5,533.9 1135.1,534.2 1137.7,534.8 1140.3,534 1143,534.3 1145.6,534.3 1148.2,533.6 1150.8,532.5 1153.4,532 1156,532.2 1158.6,532.4 1161.2,533 1163.8,533 1166.4,532.6 1169,532.8 1171.6,532.6 1174.2,533.1 1176.9,532.1 1179.5,532.3 1182.1,531.9 1184.7,532.4 1187.3,532.1 1189.9,531.4 1192.5,530.7 1195.1,531.2 1197.7,532.5 1200.3,532.5 1202.9,531.2 1205.5,530.6 1208.1,531.2 1210.8,532 1213.4,531.9 1216,532.3 1218.6,533.3 1221.2,534 1223.8,533.2 1226.4,532.5 1229,532.3 1231.6,532 1234.2,532.2 1236.8,532.7 1239.4,532.9 1242,533.1 1244.7,533.7 1247.3,534.1 1249.9,534.1 1252.5,534.1 1255.1,533.1 1257.7,532.1 1260.3,531.9" stroke="#d633ff" stroke-width="6" />
</g>
<clipPath id="i0"><rect x="1456" y="383" width="802.7" height="239.8"/></clipPath>
<g clip-path="url(#i0)" fill="none" stroke-linejoin="round">
<path d="M1457,621.8 1466.2,614.3 1475.5,606.8 1484.7,599.3 1494,591.8 1503.2,584.4 1512.4,577 1521.7,569.6 1530.9,562.3 1540.2,554.9 1549.4,547.6 1558.7,540.4 1567.9,533.1 1577.1,526 1586.4,518.8 1595.6,511.7 1604.9,504.6 1614.1,497.4 1623.3,490.3 1632.6,483.1 1641.8,475.9 1651.1,468.7 1660.3,461.5 1669.6,454.5 1678.8,447.6 1688,440.7 1697.3,433.9 1706.5,427.2 1715.8,420.5 1725,414 1725,414 1726.9,412.9 1728.8,412 1730.6,411.3 1732.5,411.4 1734.4,412.2 1736.3,414.1 1738.2,416.8 1740,420.5 1741.9,424.4 1743.8,428.6 1745.7,433 1747.6,437.6 1749.4,442.3 1751.3,447.3 1753.2,452.5 1755.1,457.8 1757,463.1 1758.9,468.2 1760.7,473.3 1762.6,478.4 1764.5,483.2 1766.4,487.9 1768.3,492.5 1770.1,496.8 1772,501 1773.9,504.9 1775.8,508.8 1777.7,512.4 1779.5,515.6 1781.4,518.3 1783.3,520.7 1785.2,522.8 1787.1,524.4 1788.9,525.9 1790.8,527.1 1792.7,528.1 1794.6,528.9 1796.5,529.7 1798.3,530.3 1800.2,530.5 1802.1,530.6 1804,530.7 1805.9,530.7 1807.8,530.7 1809.6,530.6 1811.5,530.3 1813.4,529.9 1815.3,529.4 1817.2,529 1819,528.5 1820.9,527.9 1822.8,527.4 1824.7,526.8 1826.6,526.3 1828.4,525.8 1830.3,525.2 1832.2,524.7 1834.1,524.1 1836,523.6 1837.8,523.2 1839.7,522.8 1841.6,522.4 1843.5,522.1 1845.4,521.7 1847.2,521.4 1849.1,521 1851,520.4 1852.9,519.9 1854.8,519.5 1856.7,519.1 1858.5,518.7 1860.4,518.4 1862.3,518.3 1864.2,518.2 1866.1,518.1 1867.9,518 1869.8,517.9 1871.7,517.9 1873.6,517.8 1875.5,517.8 1877.3,517.8 1879.2,517.8 1881.1,517.8 1883,517.8 1884.9,517.8 1886.7,517.8 1888.6,517.8 1890.5,517.8 1892.4,517.8 1894.3,517.8 1896.1,517.8 1898,517.9 1899.9,517.9 1901.8,517.9 1903.7,517.9 1905.6,518 1907.4,518 1909.3,518 1911.2,518.1 1913.1,518.1 1915,518.2 1916.8,518.3 1918.7,518.4 1920.6,518.5 1922.5,518.6 1924.4,518.7 1926.2,518.8 1928.1,518.9 1930,519 2418.4,519.5" stroke="#ff0000" stroke-width="3" />
<path d="M1457,621.8 1485,443.3 1487.4,428.3 1489.8,447.4 1505.1,569.7 1507.5,588.9 1508.9,589.1 1510.8,589.1 1512.3,588.9 1514.7,573.9 1533.1,457.8 1535.5,443 1537.9,466.1 1547.5,559.8 1549.9,583 1552.3,569.1 1567.1,482.4 1569.5,468.5 1571.9,484.3 1581.5,548.5 1583.9,564.3 1586.3,550 1595.6,494 1598,479.8 1600.4,495.1 1605.5,528.4 1607.9,543.8 1610.3,533 1614.8,512.4 1617.2,501.5 1619,511.5 1621.3,525 1623,535 1624.5,527.4 1626.4,517 1627.8,509.3 1629.5,513.7 1631.9,519.7 1633.6,524.2 1635.4,522 1637.8,519 1639.7,516.8 1641.4,518.2 1643.6,520.1 1645.3,521.5 1647,520.4 1649.2,518.9 1650.9,517.8 1652.6,518.7 1654.8,519.9 1656.5,520.8 1658.2,520.1 1660.4,519.2 1662.1,518.4 1664,518.7 1668.5,519.5 2258.2,519.5" stroke="#0000ff" stroke-width="3" />
<path d="M1457,621.8 1547.7,519.5 2258.2,519.5" stroke="#00dc00" stroke-width="3" />
<path d="M1457,621.8 1500.3,519.5 2258.2,519.5" stroke="#d633ff" stroke-width="3.2" />
</g>
<rect x="1457" y="383" width="801.2" height="238.8" fill="none" stroke="#000" stroke-width="2"/>
<path d="M1537.1,621.8v-4M1617.2,621.8v-7.5M1697.4,621.8v-4M1777.5,621.8v-7.5M1857.6,621.8v-4M1937.7,621.8v-7.5M2017.8,621.8v-4M2098,621.8v-7.5M2178.1,621.8v-4M1457,553.6h7.5M1457,485.3h7.5M1457,417.1h7.5M1457,587.7h4M1457,519.5h4M1457,451.2h4" stroke="#000" stroke-width="2" fill="none"/>
<g font-family="'Liberation Serif',serif" font-size="27" fill="#000">
<text x="1450.2" y="629.6" text-anchor="end">200</text>
<text x="1450.2" y="561.3" text-anchor="end">400</text>
<text x="1450.2" y="493.1" text-anchor="end">600</text>
<text x="1450.2" y="424.9" text-anchor="end">800</text>
<text x="1457" y="650.2" text-anchor="middle">2.0</text>
<text x="1617.2" y="650.2" text-anchor="middle">2.1</text>
<text x="1777.5" y="650.2" text-anchor="middle">2.2</text>
<text x="1937.7" y="650.2" text-anchor="middle">2.3</text>
<text x="2098" y="650.2" text-anchor="middle">2.4</text>
<text x="2258.2" y="650.2" text-anchor="middle">2.5</text>
</g>
<ellipse cx="1306.9" cy="313.6" rx="89.5" ry="264.8" fill="none" stroke="#000" stroke-width="4.9"/>
<path d="M1366,515.5H1425.2" fill="none" stroke="#000" stroke-width="4.4"/>
<path d="M1408.9,498.5L1426.3,515.5L1408.9,532.5" fill="none" stroke="#000" stroke-width="5" stroke-linejoin="miter"/>
<rect x="2001.7" y="40" width="310.4" height="220.8" fill="#fff" stroke="#000" stroke-width="1.8"/>
<path d="M2007.1,69.7H2108.2" stroke="#ff0000" stroke-width="4"/>
<path d="M2007.1,123H2108.2" stroke="#0000ff" stroke-width="4"/>
<path d="M2007.1,176.8H2108.2" stroke="#00dc00" stroke-width="4"/>
<path d="M2007.1,230.7H2108.2" stroke="#d633ff" stroke-width="4"/>
<g font-family="'Liberation Serif',serif" font-size="48" fill="#000">
<text x="2118.6" y="84.8" textLength="93.5" lengthAdjust="spacingAndGlyphs">SMC</text>
<text x="2118.6" y="138.5" textLength="108.2" lengthAdjust="spacingAndGlyphs">ISMC</text>
<text x="2118.6" y="192.2" textLength="135.7" lengthAdjust="spacingAndGlyphs">ITSMC</text>
<text x="2118.6" y="245.7" textLength="187.8" lengthAdjust="spacingAndGlyphs">ITFTSMC</text>
</g>
<rect x="2319.3" y="40" width="42" height="630.6" fill="#fff"/>
<path d="M201.3,40H2319.3V672.6" fill="none" stroke="#000" stroke-width="4" stroke-linejoin="miter"/>
<g font-family="'Liberation Serif',serif" font-size="51" fill="#000">
<text x="184.6" y="685" text-anchor="end" textLength="26" lengthAdjust="spacingAndGlyphs">0</text>
<text x="184.6" y="544.9" text-anchor="end" textLength="78" lengthAdjust="spacingAndGlyphs">200</text>
<text x="184.6" y="404.7" text-anchor="end" textLength="78" lengthAdjust="spacingAndGlyphs">400</text>
<text x="184.6" y="264.6" text-anchor="end" textLength="78" lengthAdjust="spacingAndGlyphs">600</text>
<text x="184.6" y="124.5" text-anchor="end" textLength="78" lengthAdjust="spacingAndGlyphs">800</text>
<text x="203.3" y="728.6" text-anchor="middle" textLength="26" lengthAdjust="spacingAndGlyphs">0</text>
<text x="1261.3" y="728.6" text-anchor="middle" textLength="26" lengthAdjust="spacingAndGlyphs">2</text>
<text x="2319.3" y="728.6" text-anchor="middle" textLength="26" lengthAdjust="spacingAndGlyphs">4</text>
</g>
<text font-family="'Liberation Serif',serif" x="1277" y="790.8" font-size="53" text-anchor="middle" textLength="162" lengthAdjust="spacingAndGlyphs">time (s)</text>
<text font-family="'Liberation Serif',serif" transform="translate(69,357) rotate(-90)" font-size="52.5" text-anchor="middle" textLength="156" lengthAdjust="spacingAndGlyphs">n (rpm)</text>
</g>
<g id="plot2">
<rect x="203.3" y="906.2" width="2116" height="630.8" fill="none" stroke="#000" stroke-width="4"/>
<path d="M203.3,1339.9h16.7M203.3,1142.8h16.7M203.3,945.6h16.7M203.3,1438.4h8.4M203.3,1241.3h8.4M203.3,1044.2h8.4M1261.3,1537v-16.7M732.3,1537v-8.0M1790.3,1537v-8.0" stroke="#000" stroke-width="4" fill="none"/>
<clipPath id="c1"><rect x="202.7" y="906.2" width="2116.4" height="631.2"/></clipPath>
<g clip-path="url(#c1)" fill="none" stroke-linejoin="round" stroke-linecap="butt">
<path d="M203.5,1537.2 204.8,1536.4 206.2,1535.4 207.5,1534 208.9,1532.6 210.2,1531.1 211.6,1528.9 212.9,1523.6 214.3,1507.4 215.6,1488 217,1470.6 218.3,1454.3 219.7,1439.8 221,1426.2 222.4,1417.1 223.7,1410.5 225.1,1404.1 226.4,1398.1 227.8,1392.6 229.1,1387.3 230.5,1382 231.8,1376.6 233.2,1371.2 234.5,1365.8 235.9,1360.5 237.2,1355.2 238.6,1349.8 239.9,1344.1 241.3,1337.7 242.6,1331.2 244,1325.1 245.3,1319.5 246.7,1314.3 248,1308.9 249.4,1303.1 250.7,1296.7 252.1,1290.5 253.4,1285.1 254.8,1279.9 256.1,1277.2 257.5,1275.8 258.8,1275.8 260.2,1277.7 261.5,1280.2 262.9,1283.5 264.2,1287.1 265.6,1290.3 266.9,1293.5 268.3,1296.7 269.6,1299.7 271,1302.4 272.3,1305.1 273.7,1307.7 275,1310 276.4,1312.1 277.7,1313.9 279.1,1315.5 280.4,1317 281.8,1318.4 283.1,1319.7 284.5,1320.8 285.8,1321.9 287.2,1322.8 288.5,1323.8 289.9,1324.7 291.2,1325.5 292.6,1326.3 293.9,1327 295.3,1327.6 296.6,1328.2 298,1328.7 299.3,1329.2 300.7,1329.6 302,1330 303.4,1330.3 304.7,1330.6 306.1,1330.9 307.4,1331.2 308.8,1331.5 310.1,1331.8 311.5,1332 312.8,1332.3 314.1,1332.5 315.5,1332.8 316.8,1333 318.2,1333.2 319.5,1333.5 320.9,1333.7 322.2,1333.9 323.6,1334.1 324.9,1334.3 326.3,1334.5 327.6,1334.7 329,1334.9 330.3,1335.1 331.7,1335.2 333,1335.4 334.4,1335.6 335.7,1335.8 337.1,1335.9 338.4,1336.1 339.8,1336.2 341.1,1336.4 342.5,1336.5 343.8,1336.6 345.2,1336.8 346.5,1336.9 347.9,1337 349.2,1337.2 350.6,1337.3 351.9,1337.4 353.3,1337.5 354.6,1337.6 356,1337.8 357.3,1337.9 358.7,1338 360,1338 361.4,1338.1 362.7,1338.2 364.1,1338.3 365.4,1338.4 366.8,1338.4 368.1,1338.5 369.5,1338.6 370.8,1338.6 372.2,1338.7 373.5,1338.8 374.9,1338.8 376.2,1338.9 377.6,1339 378.9,1339 380.3,1339.1 381.6,1339.1 383,1339.2 384.3,1339.2 385.7,1339.3 387,1339.3 388.4,1339.4 389.7,1339.4 391.1,1339.5 392.4,1339.5 393.8,1339.5 395.1,1339.6 396.5,1339.6 397.8,1339.6 399.2,1339.7 400.5,1339.7 401.9,1339.7 403.2,1339.8 404.6,1339.8 405.9,1339.8 407.3,1339.8 408.6,1339.9 410,1339.9 411.3,1339.9 412.7,1339.9 414,1340 415.4,1340 416.7,1340 418.1,1340 419.4,1340 420.8,1340.1 422.1,1340.1 423.5,1340.1 424.8,1340.1 426.1,1340.1 427.5,1340.2 428.8,1340.2 430.2,1340.2 431.5,1340.2 432.9,1340.2 434.2,1340.2 435.6,1340.3 436.9,1340.3 438.3,1340.3 439.6,1340.3 441,1340.3 442.3,1340.3 443.7,1340.3 445,1340.3 446.4,1340.4 447.7,1340.4 449.1,1340.4 450.4,1340.4 451.8,1340.4 453.1,1340.4 454.5,1340.4 455.8,1340.4 457.2,1340.4 458.5,1340.4 459.9,1340.4 461.2,1340.5 462.6,1340.5 463.9,1340.5 465.3,1340.5 466.6,1340.5 468,1340.5 469.3,1340.5 470.7,1340.5 472,1340.5 473.4,1340.5 474.7,1340.5 476.1,1340.5 477.4,1340.5 478.8,1340.5 480.1,1340.5 481.5,1340.5 482.8,1340.5 484.2,1340.5 485.5,1340.6 486.9,1340.6 488.2,1340.6 489.6,1340.6 490.9,1340.6 492.3,1340.6 493.6,1340.6 495,1340.6 496.3,1340.6 497.7,1340.6 499,1340.6 500.4,1340.6 501.7,1340.6 503.1,1340.6 504.4,1340.6 505.8,1340.6 507.1,1340.6 508.5,1340.6 509.8,1340.6 511.2,1340.6 512.5,1340.6 513.9,1340.5 515.2,1340.5 516.6,1340.5 517.9,1340.5 519.3,1340.5 520.6,1340.5 522,1340.5 523.3,1340.5 524.7,1340.5 526,1340.5 527.4,1340.4 528.7,1340.4 530.1,1340.4 531.4,1340.4 532.8,1340.4 534.1,1340.4 535.5,1340.4 536.8,1340.4 538.1,1340.4 539.5,1340.4 540.8,1340.3 542.2,1340.3 543.5,1340.3 544.9,1340.3 546.2,1340.3 547.6,1340.3 548.9,1340.3 550.3,1340.3 551.6,1340.3 553,1340.2 554.3,1340.2 555.7,1340.2 557,1340.2 558.4,1340.2 559.7,1340.2 561.1,1340.2 562.4,1340.2 563.8,1340.2 565.1,1340.1 566.5,1340.1 567.8,1340.1 569.2,1340.1 570.5,1340.1 571.9,1340.1 573.2,1340.1 574.6,1340.1 575.9,1340 577.3,1340 578.6,1340 580,1340 1261.3,1340 1265.1,1328.3 1268.8,1316.8 1272.6,1305.5 1276.4,1294.3 1280.2,1283.2 1283.9,1272.3 1287.7,1261.6 1291.5,1251.1 1295.3,1240.7 1299,1230.5 1302.8,1220.5 1306.6,1210.5 1310.4,1200.7 1314.1,1191 1317.9,1181.3 1321.7,1171.8 1325.5,1162.2 1329.2,1152.8 1333,1143.3 1336.8,1133.9 1340.5,1124.7 1344.3,1115.5 1348.1,1106.3 1351.9,1097.3 1355.6,1088.2 1359.4,1079.3 1363.2,1070.3 1367,1061.4 1370.7,1052.6 1374.5,1043.8 1378.3,1035.1 1382.1,1026.4 1385.8,1017.7 1389.6,1009.1 1393.4,1000.5 1397.2,991.9 1400.9,983.4 1404.7,975 1408.5,966.6 1408.5,966.6 1409.1,964.7 1409.7,963.2 1410.2,961.8 1410.8,960.6 1411.4,961.1 1412,963 1412.6,965.8 1413.2,970.1 1413.8,975.1 1414.4,981.3 1415,988.3 1415.6,995.5 1416.2,1003.2 1416.8,1011.2 1417.4,1019.2 1417.9,1027.3 1418.5,1035.4 1419.1,1043.5 1419.7,1051.6 1420.3,1059.7 1420.9,1067.8 1421.5,1076 1422.1,1084 1422.7,1092 1423.3,1099.8 1423.9,1107.2 1424.5,1114.1 1425.1,1120.5 1425.6,1126.1 1426.2,1130.9 1426.8,1135.2 1427.4,1139.2 1428,1142.9 1428.6,1146.3 1429.2,1149.4 1429.8,1152.3 1430.4,1154.9 1431,1157.2 1431.6,1159.3 1432.2,1160.9 1432.7,1162 1433.3,1162.9 1433.9,1163.4 1434.5,1163.7 1435.1,1163.8 1435.7,1163.9 1436.3,1163.7 1436.9,1163.3 1437.5,1162.9 1438.1,1162.2 1438.7,1161.4 1439.3,1160.4 1439.9,1159.4 1440.4,1158.3 1441,1157.4 1441.6,1156.4 1442.2,1155.4 1442.8,1154.4 1443.4,1153.4 1444,1152.5 1444.6,1151.6 1445.2,1150.8 1445.8,1149.9 1446.4,1149.1 1447,1148.3 1447.6,1147.6 1448.1,1147 1448.7,1146.3 1449.3,1145.7 1449.9,1145.1 1450.5,1144.6 1451.1,1144 1451.7,1143.5 1452.3,1143.1 1452.9,1142.6 1453.5,1142.1 1454.1,1141.7 1454.7,1141.3 1455.2,1141 1455.8,1140.7 1456.4,1140.5 1457,1140.4 1457.6,1140.2 1458.2,1140 1458.8,1139.9 1459.4,1139.8 1460,1139.8 1460.6,1139.8 1461.2,1139.8 1461.8,1139.8 1462.4,1139.9 1462.9,1140 1463.5,1140.1 1464.1,1140.2 1464.7,1140.3 1465.3,1140.4 1465.9,1140.7 1466.5,1141 1467.1,1141.3 1467.7,1141.6 1468.3,1141.9 1468.9,1142.1 1469.5,1142.3 1470.1,1142.4 1470.6,1142.6 1471.2,1142.7 1471.8,1142.8 1472.4,1142.9 1473,1143 1481,1143" stroke="#ff0000" stroke-width="4.6" />
<path d="M204.1,1400 204.5,1266 204.9,1269.8 205.4,1344 205.9,1285.4 206.4,1349.3 206.9,1295.2 207.4,1357.8 207.9,1301.3 208.4,1366.5 208.9,1304.7 209.4,1370 209.9,1308.1 210.4,1365.6 210.8,1313.5 211.3,1356.6 211.8,1320.6 212.3,1348.4 212.8,1327 213.3,1343.6 213.8,1331.7 214.3,1341.7 214.8,1336.3 215.3,1341.1 215.8,1338.8 216.3,1341 217.8,1340.5 230.1,1339.6 242.3,1339.9 254.6,1340.2 266.9,1340.1 279.1,1340.1 291.4,1340.2 303.7,1340.3 315.9,1340.1 328.2,1340.6 340.4,1339.7 352.7,1340.1 365,1339.9 377.2,1339.9 389.5,1340.1 401.8,1340.4 414,1339.8 426.3,1339.8 438.6,1340.2 450.8,1340.1 463.1,1340.5 475.4,1340.3 487.6,1340.1 499.9,1339.9 512.2,1340.1 524.4,1340 536.7,1339.7 548.9,1340 561.2,1340 573.5,1339.9 585.7,1339.9 598,1340.4 610.3,1340.2 622.5,1340.2 634.8,1339.8 647.1,1339.7 659.3,1339.9 671.6,1340.1 683.9,1339.9 696.1,1340 708.4,1340.2 720.7,1340.1 732.9,1339.8 745.2,1339.9 757.4,1339.8 769.7,1340 782,1339.7 794.2,1340 806.5,1340.2 818.8,1340 831,1339.8 843.3,1339.8 855.6,1340 867.8,1340.1 880.1,1340.2 892.4,1340 904.6,1339.7 916.9,1340.4 929.2,1340.1 941.4,1340.1 953.7,1340.1 965.9,1339.7 978.2,1339.9 990.5,1340.1 1002.7,1340.3 1015,1340 1027.3,1339.4 1039.5,1339.9 1051.8,1340.1 1064.1,1340.3 1076.3,1340.2 1088.6,1340.6 1100.9,1340.4 1113.1,1340.3 1125.4,1340.2 1137.7,1339.7 1149.9,1340.2 1162.2,1340.1 1174.4,1339.9 1186.7,1340.1 1199,1340.1 1211.2,1339.9 1223.5,1340 1235.8,1339.9 1248,1340.1 1260.3,1339.9 1261.3,1340 1278.9,963.1 1279.1,957.6 1279.4,966.5 1288.6,1284.3 1288.9,1293.3 1289.2,1293.9 1290.2,1296 1290.5,1296.5 1290.8,1290.8 1304.3,997.5 1304.5,991.9 1304.8,1000.7 1312.2,1252 1312.5,1261 1312.7,1261.5 1313.9,1263.4 1314.1,1263.7 1314.4,1257.9 1325,1021.7 1325.3,1015.9 1325.6,1024.6 1331.6,1224.6 1331.8,1233.4 1332.1,1236.1 1332.8,1243.4 1333.1,1246 1333.3,1240 1340.9,1067.9 1341.2,1062 1341.4,1059.8 1342.5,1051.1 1342.8,1049 1343,1057.6 1347.4,1201.9 1347.7,1210.5 1348,1211.2 1349.1,1213.9 1349.4,1214.5 1349.6,1208.4 1355.2,1079.5 1355.5,1073.5 1355.7,1080.4 1360,1193.6 1360.2,1200.6 1360.5,1198.6 1361.3,1192.2 1361.5,1190 1361.8,1184.4 1366.1,1092.4 1366.4,1086.9 1366.6,1094.8 1369.5,1181.6 1369.7,1189.6 1370,1184.5 1372.9,1127.4 1373.2,1122.3 1373.4,1122 1374.2,1121.3 1374.5,1121.1 1374.7,1129.3 1375.8,1163.7 1376.1,1171.8 1376.4,1168.1 1378.8,1132.4 1379.1,1128.6 1379.4,1132.9 1380.6,1153 1380.9,1157.3 1381.1,1153.6 1382.2,1138.6 1382.4,1134.9 1382.7,1137 1383.8,1145.4 1384,1147.5 1384.3,1146.3 1385.4,1141.6 1385.6,1140.4 1385.9,1140.6 1388.3,1142.9 1394.3,1142.9" stroke="#0000ff" stroke-width="4.6" />
<path d="M203.8,1537 206.3,1500 210.3,1440 214.3,1390 217.8,1356 220.3,1345 221.8,1342.5 224.1,1339.9 226.4,1341.6 228.7,1340.1 231,1341.4 233.3,1342.4 235.6,1341.9 238,1341.8 240.3,1342 242.6,1343.5 244.9,1340.7 247.2,1342.8 249.5,1340.3 251.8,1341.4 254.1,1342.1 256.4,1341 258.7,1342.1 261,1342.7 263.3,1340.6 265.6,1341.8 268,1341.5 270.3,1339.9 272.6,1341.7 274.9,1341.1 277.2,1343.3 279.5,1341 281.8,1343.7 284.1,1341.3 286.4,1343.9 288.7,1342.5 291,1342.4 293.3,1342.7 295.6,1342.8 298,1343.4 300.3,1343.7 302.6,1341.5 304.9,1340.6 307.2,1339.5 309.5,1341.5 311.8,1342.7 314.1,1342.3 316.4,1342 318.7,1341.5 321,1341.2 323.3,1341.6 325.7,1342.3 328,1340 330.3,1342.7 332.6,1340.4 334.9,1341.7 337.2,1341.2 339.5,1341.5 341.8,1340.8 344.1,1340.7 346.4,1341.7 348.7,1340.8 351,1344.3 353.3,1341.5 355.7,1341.2 358,1341.3 360.3,1340.8 362.6,1339.5 364.9,1341.6 367.2,1342.2 369.5,1340.3 371.8,1341.9 374.1,1340.6 376.4,1341.9 378.7,1342.3 381,1342.4 383.3,1342.3 385.7,1341.2 388,1342.8 390.3,1341.4 392.6,1342.3 394.9,1342.6 397.2,1341.6 399.5,1340.5 401.8,1342.5 404.1,1340.7 406.4,1341 408.7,1340.7 411,1342.8 413.3,1341.7 415.7,1339.5 418,1342.7 420.3,1344.1 422.6,1343.8 424.9,1341.3 427.2,1342 429.5,1342.4 431.8,1342.8 434.1,1341.9 436.4,1340.7 438.7,1342.7 441,1342.5 443.3,1340.5 445.7,1341.5 448,1342.2 450.3,1341.9 452.6,1342.4 454.9,1342.7 457.2,1342.5 459.5,1341.8 461.8,1340.5 464.1,1342.5 466.4,1343.4 468.7,1344 471,1341.9 473.3,1341.8 475.7,1343.4 478,1343.4 480.3,1342.2 482.6,1342.6 484.9,1341.1 487.2,1342.5 489.5,1341 491.8,1341.7 494.1,1341.8 496.4,1341.4 498.7,1339.7 501,1341 503.3,1342.2 505.7,1341.8 508,1341.5 510.3,1342.3 512.6,1342.6 514.9,1342.8 517.2,1341 519.5,1341.9 521.8,1341.5 524.1,1341 526.4,1340.3 528.7,1341.8 531,1341 533.4,1344.1 535.7,1341.8 538,1341.6 540.3,1341.5 542.6,1343.9 544.9,1340.9 547.2,1341.7 549.5,1341.1 551.8,1341.8 554.1,1341.8 556.4,1343 558.7,1340.4 561,1341.9 563.4,1343.6 565.7,1341.3 568,1341.7 570.3,1341 572.6,1339.5 574.9,1341.8 577.2,1343.1 579.5,1341.4 581.8,1339.9 584.1,1342.2 586.4,1342 588.7,1342.9 591,1342.8 593.4,1341.6 595.7,1342.3 598,1340 600.3,1343.1 602.6,1342.1 604.9,1343 607.2,1343 609.5,1341.6 611.8,1341.7 614.1,1341 616.4,1339.7 618.7,1341.7 621,1342 623.4,1340.7 625.7,1342.6 628,1342 630.3,1342.4 632.6,1341.1 634.9,1340 637.2,1342.7 639.5,1342.5 641.8,1341.8 644.1,1341.4 646.4,1341.6 648.7,1341.7 651,1341.3 653.4,1339.8 655.7,1342.7 658,1340.3 660.3,1341.5 662.6,1341.6 664.9,1342.2 667.2,1340.2 669.5,1343.2 671.8,1342.6 674.1,1342.7 676.4,1343.2 678.7,1341 681,1339.5 683.4,1342.2 685.7,1343.3 688,1343.1 690.3,1341.3 692.6,1341.8 694.9,1342.2 697.2,1340 699.5,1341.2 701.8,1341.2 704.1,1343.6 706.4,1341.2 708.7,1343.5 711,1341.9 713.4,1340.1 715.7,1344.2 718,1340.9 720.3,1342.5 722.6,1343.7 724.9,1341.3 727.2,1340.6 729.5,1343 731.8,1342 734.1,1340.6 736.4,1340.8 738.7,1341.5 741,1342.9 743.4,1341.6 745.7,1342.6 748,1343.6 750.3,1343.2 752.6,1343.4 754.9,1343.2 757.2,1340.2 759.5,1343.2 761.8,1342.2 764.1,1341.8 766.4,1340.8 768.7,1340.2 771.1,1340.7 773.4,1341.9 775.7,1340.7 778,1341 780.3,1341.3 782.6,1342.6 784.9,1341.6 787.2,1341.7 789.5,1343.3 791.8,1341.6 794.1,1342.5 796.4,1340.8 798.7,1342.2 801.1,1342 803.4,1342.1 805.7,1341.4 808,1340.8 810.3,1341.6 812.6,1341.4 814.9,1343 817.2,1342.9 819.5,1340.6 821.8,1342.6 824.1,1341.4 826.4,1342.4 828.7,1341.4 831.1,1340.4 833.4,1343 835.7,1342.4 838,1340.6 840.3,1339.9 842.6,1341.3 844.9,1340.7 847.2,1341.5 849.5,1342.6 851.8,1343.4 854.1,1341.5 856.4,1343.3 858.7,1343.1 861.1,1341.4 863.4,1340.1 865.7,1342.8 868,1342.5 870.3,1344.3 872.6,1343.4 874.9,1342.7 877.2,1343.7 879.5,1340.8 881.8,1342.1 884.1,1341.6 886.4,1343.7 888.7,1342.5 891.1,1339.5 893.4,1343.3 895.7,1341 898,1342.7 900.3,1341.4 902.6,1342.2 904.9,1342.6 907.2,1342.1 909.5,1340.9 911.8,1343.4 914.1,1342.3 916.4,1341.9 918.7,1342.7 921.1,1341.4 923.4,1343.9 925.7,1342.2 928,1342.3 930.3,1342.3 932.6,1341 934.9,1340.7 937.2,1342.1 939.5,1342.3 941.8,1343.3 944.1,1342.4 946.4,1340.8 948.8,1342.5 951.1,1342.8 953.4,1343 955.7,1342.3 958,1340.6 960.3,1343.1 962.6,1341.2 964.9,1342.5 967.2,1340.3 969.5,1342.7 971.8,1341.1 974.1,1343.1 976.4,1343.8 978.8,1343.1 981.1,1340.7 983.4,1340.9 985.7,1341 988,1342.6 990.3,1342.3 992.6,1342.1 994.9,1342.2 997.2,1342.5 999.5,1342.6 1001.8,1343.7 1004.1,1341.9 1006.4,1342.1 1008.8,1340 1011.1,1340.5 1013.4,1341.2 1015.7,1340.7 1018,1342.1 1020.3,1343 1022.6,1341.5 1024.9,1341.4 1027.2,1341.4 1029.5,1342 1031.8,1341.3 1034.1,1342.4 1036.4,1342.2 1038.8,1342.3 1041.1,1342.7 1043.4,1341.9 1045.7,1342.1 1048,1343.8 1050.3,1341.9 1052.6,1342.7 1054.9,1342 1057.2,1341.4 1059.5,1341.4 1061.8,1341 1064.1,1341.9 1066.4,1341.3 1068.8,1341.5 1071.1,1343.2 1073.4,1341.8 1075.7,1343.1 1078,1342.2 1080.3,1342.8 1082.6,1341.3 1084.9,1342.1 1087.2,1344.3 1089.5,1342.8 1091.8,1343 1094.1,1342.1 1096.4,1342.8 1098.8,1340.7 1101.1,1341 1103.4,1342.3 1105.7,1342.8 1108,1341.5 1110.3,1341.7 1112.6,1341.5 1114.9,1341.7 1117.2,1340.6 1119.5,1340.4 1121.8,1341.8 1124.1,1340.1 1126.4,1340.9 1128.8,1341.2 1131.1,1340.8 1133.4,1342.1 1135.7,1341.4 1138,1341.8 1140.3,1340.8 1142.6,1341.1 1144.9,1342.4 1147.2,1342.3 1149.5,1341.4 1151.8,1342.3 1154.1,1342.1 1156.5,1342 1158.8,1343.5 1161.1,1341.5 1163.4,1342.3 1165.7,1342.3 1168,1341.6 1170.3,1340.6 1172.6,1342.6 1174.9,1342.1 1177.2,1341.9 1179.5,1341.9 1181.8,1341.9 1184.1,1340.9 1186.5,1342.2 1188.8,1340 1191.1,1341.8 1193.4,1340.3 1195.7,1341.5 1198,1342.6 1200.3,1341.6 1202.6,1341.3 1204.9,1342.4 1207.2,1341.6 1209.5,1341.4 1211.8,1341.4 1214.1,1343.4 1216.5,1342.5 1218.8,1342.4 1221.1,1340.6 1223.4,1342.5 1225.7,1340.5 1228,1342.3 1230.3,1340.7 1232.6,1343.9 1234.9,1340.1 1237.2,1343.1 1239.5,1342.7 1241.8,1340 1244.1,1341.6 1246.5,1343.4 1248.8,1343 1251.1,1340.1 1253.4,1341.3 1255.7,1340.6 1258,1340.8 1260.3,1341.2 1261.3,1341.9 1263,1331.4 1264.6,1323 1266.3,1314.9 1267.9,1306.8 1269.6,1299 1271.3,1291.4 1272.9,1284 1274.6,1276.8 1276.2,1269.7 1277.9,1262.8 1279.6,1256 1281.2,1249.3 1282.9,1242.7 1284.5,1236.2 1286.2,1229.6 1287.9,1223.1 1289.5,1216.7 1291.2,1210.4 1292.8,1204.2 1294.5,1198 1296.2,1191.8 1297.8,1185.7 1299.5,1179.5 1301.1,1173.3 1302.8,1167.1 1304.5,1161 1306.1,1154.9 1307.8,1148.8 1309.4,1142.9 1315.4,1142.9" stroke="#00dc00" stroke-width="4.6" />
<path d="M203.5,1537 204.5,1450 205.7,1370 207.3,1345 209.3,1341.5 210.8,1341.4 213.4,1341.2 216,1340.6 218.6,1340.7 221.2,1341 223.9,1340.9 226.5,1341 229.1,1340.7 231.7,1340.7 234.3,1340.5 236.9,1341.2 239.5,1341.3 242.1,1341.1 244.7,1341.1 247.3,1341.4 250,1341.5 252.6,1341.5 255.2,1341.4 257.8,1341.2 260.4,1341.2 263,1341.2 265.6,1341.3 268.2,1340.8 270.8,1340.3 273.5,1340.3 276.1,1341.1 278.7,1341.1 281.3,1340.7 283.9,1341 286.5,1341.1 289.1,1341 291.7,1340.8 294.3,1340.9 297,1340.7 299.6,1341 302.2,1340.8 304.8,1340.6 307.4,1340.5 310,1340.6 312.6,1340.1 315.2,1340.1 317.8,1340.6 320.4,1340.9 323.1,1340.7 325.7,1340.5 328.3,1341.2 330.9,1341.2 333.5,1341 336.1,1340 338.7,1340.1 341.3,1340.6 343.9,1341.1 346.6,1341.3 349.2,1340.8 351.8,1341.2 354.4,1341.3 357,1340.9 359.6,1340.6 362.2,1340.6 364.8,1341 367.4,1340.9 370.1,1341 372.7,1340.9 375.3,1340.6 377.9,1340.1 380.5,1340.3 383.1,1340.7 385.7,1341 388.3,1340.7 390.9,1340.2 393.5,1339.7 396.2,1340.2 398.8,1340.7 401.4,1340.7 404,1340.1 406.6,1340.1 409.2,1340.1 411.8,1340.4 414.4,1340.6 417,1340.5 419.7,1340.4 422.3,1340.4 424.9,1340.7 427.5,1340.8 430.1,1341.2 432.7,1341.3 435.3,1341.3 437.9,1340.7 440.5,1340.8 443.2,1340.7 445.8,1340.3 448.4,1339.7 451,1340.2 453.6,1340.4 456.2,1340.8 458.8,1340.9 461.4,1340.7 464,1340.2 466.6,1340.7 469.3,1341.1 471.9,1340.6 474.5,1340.2 477.1,1340.9 479.7,1341.5 482.3,1341.3 484.9,1340.9 487.5,1340.8 490.1,1341.2 492.8,1341.7 495.4,1341.7 498,1341.5 500.6,1341.1 503.2,1341.1 505.8,1340.6 508.4,1340.4 511,1340.4 513.6,1340.5 516.3,1340.8 518.9,1340.7 521.5,1340.8 524.1,1340.6 526.7,1340.7 529.3,1340.6 531.9,1341 534.5,1341.9 537.1,1341.7 539.7,1341.2 542.4,1340.5 545,1340.5 547.6,1340.5 550.2,1340.4 552.8,1340.5 555.4,1340.8 558,1340.6 560.6,1340.5 563.2,1340.4 565.9,1340.7 568.5,1340.7 571.1,1340.8 573.7,1340.9 576.3,1341 578.9,1340.7 581.5,1340.8 584.1,1340.6 586.7,1340.6 589.4,1340.3 592,1340.3 594.6,1340.8 597.2,1340.6 599.8,1340.4 602.4,1340.2 605,1340.9 607.6,1340.9 610.2,1341 612.8,1340.4 615.5,1340.5 618.1,1340.4 620.7,1340.9 623.3,1340.7 625.9,1340.1 628.5,1339.6 631.1,1340.1 633.7,1340.8 636.3,1340.9 639,1340.7 641.6,1340.6 644.2,1340.5 646.8,1340 649.4,1340.5 652,1341.3 654.6,1341.4 657.2,1341 659.8,1340.8 662.5,1341.6 665.1,1341.1 667.7,1340.5 670.3,1340.4 672.9,1340.6 675.5,1340.5 678.1,1340.5 680.7,1341.1 683.3,1340.9 685.9,1340.8 688.6,1340.6 691.2,1340.8 693.8,1340.8 696.4,1340.8 699,1340.3 701.6,1340.6 704.2,1341.2 706.8,1341.7 709.4,1341.1 712.1,1340.6 714.7,1340.9 717.3,1341.4 719.9,1341.2 722.5,1340.6 725.1,1340.6 727.7,1340.7 730.3,1340.5 732.9,1340.7 735.5,1341 738.2,1341.2 740.8,1340.4 743.4,1340 746,1340.2 748.6,1340.8 751.2,1340.9 753.8,1341.1 756.4,1341 759,1340.9 761.7,1339.9 764.3,1339.6 766.9,1339.6 769.5,1339.9 772.1,1340.4 774.7,1341.1 777.3,1341.3 779.9,1340.8 782.5,1340.9 785.2,1341.3 787.8,1341.3 790.4,1340.7 793,1340.3 795.6,1340.4 798.2,1340.7 800.8,1341.4 803.4,1341.6 806,1341.7 808.6,1341.6 811.3,1341.3 813.9,1340.8 816.5,1340.5 819.1,1340.3 821.7,1340.3 824.3,1340.3 826.9,1340.8 829.5,1340.9 832.1,1340.4 834.8,1340.1 837.4,1340.6 840,1340.8 842.6,1340.3 845.2,1340.1 847.8,1340.3 850.4,1340.2 853,1340.3 855.6,1340.3 858.3,1340.4 860.9,1340.6 863.5,1340.7 866.1,1340.5 868.7,1340.7 871.3,1341.1 873.9,1341.1 876.5,1341 879.1,1341 881.7,1341.1 884.4,1341.1 887,1340.9 889.6,1340.7 892.2,1340.9 894.8,1341.4 897.4,1341.1 900,1340.9 902.6,1341.1 905.2,1341.4 907.9,1341.5 910.5,1341.5 913.1,1341.5 915.7,1341.2 918.3,1340.9 920.9,1341.1 923.5,1341 926.1,1340.9 928.7,1340.6 931.4,1340.6 934,1340.8 936.6,1341 939.2,1340.7 941.8,1340.4 944.4,1340.4 947,1340.9 949.6,1341 952.2,1341.6 954.8,1341.9 957.5,1341.8 960.1,1341.2 962.7,1341.3 965.3,1341.5 967.9,1340.8 970.5,1340.3 973.1,1340.4 975.7,1341.3 978.3,1341 981,1341.1 983.6,1340.8 986.2,1341.3 988.8,1341 991.4,1341 994,1341.1 996.6,1341.2 999.2,1341.4 1001.8,1341.1 1004.5,1340.9 1007.1,1340.6 1009.7,1340.5 1012.3,1340.6 1014.9,1341 1017.5,1340.9 1020.1,1340.4 1022.7,1340 1025.3,1340.8 1027.9,1341.6 1030.6,1341.9 1033.2,1341.8 1035.8,1341.4 1038.4,1340.9 1041,1340 1043.6,1339.8 1046.2,1340.1 1048.8,1340.5 1051.4,1340 1054.1,1339.6 1056.7,1340 1059.3,1340.9 1061.9,1341.9 1064.5,1342 1067.1,1341.5 1069.7,1340.1 1072.3,1339.8 1074.9,1340.6 1077.6,1340.8 1080.2,1340.4 1082.8,1340.2 1085.4,1340.6 1088,1340.7 1090.6,1340.9 1093.2,1341.2 1095.8,1341.3 1098.4,1341.3 1101,1341.6 1103.7,1341.4 1106.3,1340.7 1108.9,1340.4 1111.5,1341.2 1114.1,1341.6 1116.7,1341.6 1119.3,1341.2 1121.9,1341.2 1124.5,1340.9 1127.2,1341 1129.8,1341 1132.4,1341.2 1135,1341.4 1137.6,1341.7 1140.2,1341.4 1142.8,1341.1 1145.4,1340.6 1148,1340.8 1150.7,1341.4 1153.3,1342 1155.9,1341.8 1158.5,1341.2 1161.1,1341.2 1163.7,1341.1 1166.3,1341.1 1168.9,1340.9 1171.5,1340.9 1174.1,1340.7 1176.8,1340.8 1179.4,1340.5 1182,1340.8 1184.6,1341.2 1187.2,1341 1189.8,1340.6 1192.4,1340.8 1195,1341.2 1197.6,1341.1 1200.3,1341 1202.9,1340.1 1205.5,1339.7 1208.1,1340.2 1210.7,1341.2 1213.3,1341.1 1215.9,1340.8 1218.5,1340.7 1221.1,1340.9 1223.8,1340.8 1226.4,1340.8 1229,1340.7 1231.6,1341 1234.2,1340.9 1236.8,1341 1239.4,1340.6 1242,1340.6 1244.6,1340.7 1247.2,1341.1 1249.9,1341.7 1252.5,1341.7 1255.1,1341.3 1257.7,1341.1 1260.3,1341 1261.3,1340.8 1263.5,1320 1265.7,1300.6 1267.8,1281.5 1270,1262.8 1272.2,1244.6 1274.4,1226.8 1276.5,1209.3 1278.7,1192.1 1280.9,1175.3 1283.1,1158.8 1285.3,1142.8 1288.3,1142.6 1297.4,1142.8 1306.5,1142.9 1315.6,1142.9 1324.8,1142.6 1333.9,1142.6 1343,1143.1 1352.1,1142.7 1361.3,1142.6 1370.4,1142.6 1379.5,1142.8 1388.6,1143 1397.8,1142.8 1406.9,1143 1416,1142.8 1425.1,1142.9 1434.3,1143 1443.4,1142.8 1452.5,1142.9 1461.6,1142.8 1470.7,1142.7 1479.9,1142.9 1489,1142.7 1498.1,1142.8 1507.2,1142.7 1516.4,1142.8 1525.5,1142.7 1534.6,1143 1543.7,1142.8 1552.9,1142.8 1562,1143.1 1571.1,1142.5 1580.2,1142.6 1589.4,1142.5 1598.5,1142.8 1607.6,1142.9 1616.7,1142.9 1625.9,1142.8 1635,1142.7 1644.1,1143.1 1653.2,1142.9 1662.4,1142.8 1671.5,1142.6 1680.6,1142.9 1689.7,1142.7 1698.9,1142.7 1708,1142.8 1717.1,1142.8 1726.2,1142.7 1735.4,1143 1744.5,1142.7 1753.6,1142.6 1762.7,1142.9 1771.8,1142.8 1781,1142.8 1790.1,1142.7 1799.2,1142.8 1808.3,1142.7 1817.5,1142.6 1826.6,1142.9 1835.7,1142.7 1844.8,1142.8 1854,1142.9 1863.1,1142.8 1872.2,1143.1 1881.3,1142.6 1890.5,1142.7 1899.6,1142.8 1908.7,1143 1917.8,1142.8 1927,1142.6 1936.1,1143 1945.2,1142.7 1954.3,1142.8 1963.5,1142.9 1972.6,1142.7 1981.7,1142.7 1990.8,1142.9 2000,1142.8 2009.1,1142.8 2018.2,1142.7 2027.3,1142.8 2036.4,1142.6 2045.6,1142.6 2054.7,1143.1 2063.8,1142.9 2072.9,1142.9 2082.1,1142.7 2091.2,1142.8 2100.3,1142.8 2109.4,1142.6 2118.6,1142.9 2127.7,1142.7 2136.8,1142.8 2145.9,1142.6 2155.1,1142.9 2164.2,1142.9 2173.3,1142.9 2182.4,1142.7 2191.6,1142.7 2200.7,1143 2209.8,1142.8 2218.9,1142.8 2228.1,1142.8 2237.2,1142.6 2246.3,1143 2255.4,1142.5 2264.6,1142.8 2273.7,1142.8 2282.8,1142.6 2291.9,1142.9 2301.1,1142.9 2310.2,1142.8 2319.3,1142.7" stroke="#d633ff" stroke-width="4.6" />
<path d="M207.3,1345 209.3,1341.5 210.8,1341.4 213.4,1341.2 216,1340.6 218.6,1340.7 221.2,1341 223.9,1340.9 226.5,1341 229.1,1340.7 231.7,1340.7 234.3,1340.5 236.9,1341.2 239.5,1341.3 242.1,1341.1 244.7,1341.1 247.3,1341.4 250,1341.5 252.6,1341.5 255.2,1341.4 257.8,1341.2 260.4,1341.2 263,1341.2 265.6,1341.3 268.2,1340.8 270.8,1340.3 273.5,1340.3 276.1,1341.1 278.7,1341.1 281.3,1340.7 283.9,1341 286.5,1341.1 289.1,1341 291.7,1340.8 294.3,1340.9 297,1340.7 299.6,1341 302.2,1340.8 304.8,1340.6 307.4,1340.5 310,1340.6 312.6,1340.1 315.2,1340.1 317.8,1340.6 320.4,1340.9 323.1,1340.7 325.7,1340.5 328.3,1341.2 330.9,1341.2 333.5,1341 336.1,1340 338.7,1340.1 341.3,1340.6 343.9,1341.1 346.6,1341.3 349.2,1340.8 351.8,1341.2 354.4,1341.3 357,1340.9 359.6,1340.6 362.2,1340.6 364.8,1341 367.4,1340.9 370.1,1341 372.7,1340.9 375.3,1340.6 377.9,1340.1 380.5,1340.3 383.1,1340.7 385.7,1341 388.3,1340.7 390.9,1340.2 393.5,1339.7 396.2,1340.2 398.8,1340.7 401.4,1340.7 404,1340.1 406.6,1340.1 409.2,1340.1 411.8,1340.4 414.4,1340.6 417,1340.5 419.7,1340.4 422.3,1340.4 424.9,1340.7 427.5,1340.8 430.1,1341.2 432.7,1341.3 435.3,1341.3 437.9,1340.7 440.5,1340.8 443.2,1340.7 445.8,1340.3 448.4,1339.7 451,1340.2 453.6,1340.4 456.2,1340.8 458.8,1340.9 461.4,1340.7 464,1340.2 466.6,1340.7 469.3,1341.1 471.9,1340.6 474.5,1340.2 477.1,1340.9 479.7,1341.5 482.3,1341.3 484.9,1340.9 487.5,1340.8 490.1,1341.2 492.8,1341.7 495.4,1341.7 498,1341.5 500.6,1341.1 503.2,1341.1 505.8,1340.6 508.4,1340.4 511,1340.4 513.6,1340.5 516.3,1340.8 518.9,1340.7 521.5,1340.8 524.1,1340.6 526.7,1340.7 529.3,1340.6 531.9,1341 534.5,1341.9 537.1,1341.7 539.7,1341.2 542.4,1340.5 545,1340.5 547.6,1340.5 550.2,1340.4 552.8,1340.5 555.4,1340.8 558,1340.6 560.6,1340.5 563.2,1340.4 565.9,1340.7 568.5,1340.7 571.1,1340.8 573.7,1340.9 576.3,1341 578.9,1340.7 581.5,1340.8 584.1,1340.6 586.7,1340.6 589.4,1340.3 592,1340.3 594.6,1340.8 597.2,1340.6 599.8,1340.4 602.4,1340.2 605,1340.9 607.6,1340.9 610.2,1341 612.8,1340.4 615.5,1340.5 618.1,1340.4 620.7,1340.9 623.3,1340.7 625.9,1340.1 628.5,1339.6 631.1,1340.1 633.7,1340.8 636.3,1340.9 639,1340.7 641.6,1340.6 644.2,1340.5 646.8,1340 649.4,1340.5 652,1341.3 654.6,1341.4 657.2,1341 659.8,1340.8 662.5,1341.6 665.1,1341.1 667.7,1340.5 670.3,1340.4 672.9,1340.6 675.5,1340.5 678.1,1340.5 680.7,1341.1 683.3,1340.9 685.9,1340.8 688.6,1340.6 691.2,1340.8 693.8,1340.8 696.4,1340.8 699,1340.3 701.6,1340.6 704.2,1341.2 706.8,1341.7 709.4,1341.1 712.1,1340.6 714.7,1340.9 717.3,1341.4 719.9,1341.2 722.5,1340.6 725.1,1340.6 727.7,1340.7 730.3,1340.5 732.9,1340.7 735.5,1341 738.2,1341.2 740.8,1340.4 743.4,1340 746,1340.2 748.6,1340.8 751.2,1340.9 753.8,1341.1 756.4,1341 759,1340.9 761.7,1339.9 764.3,1339.6 766.9,1339.6 769.5,1339.9 772.1,1340.4 774.7,1341.1 777.3,1341.3 779.9,1340.8 782.5,1340.9 785.2,1341.3 787.8,1341.3 790.4,1340.7 793,1340.3 795.6,1340.4 798.2,1340.7 800.8,1341.4 803.4,1341.6 806,1341.7 808.6,1341.6 811.3,1341.3 813.9,1340.8 816.5,1340.5 819.1,1340.3 821.7,1340.3 824.3,1340.3 826.9,1340.8 829.5,1340.9 832.1,1340.4 834.8,1340.1 837.4,1340.6 840,1340.8 842.6,1340.3 845.2,1340.1 847.8,1340.3 850.4,1340.2 853,1340.3 855.6,1340.3 858.3,1340.4 860.9,1340.6 863.5,1340.7 866.1,1340.5 868.7,1340.7 871.3,1341.1 873.9,1341.1 876.5,1341 879.1,1341 881.7,1341.1 884.4,1341.1 887,1340.9 889.6,1340.7 892.2,1340.9 894.8,1341.4 897.4,1341.1 900,1340.9 902.6,1341.1 905.2,1341.4 907.9,1341.5 910.5,1341.5 913.1,1341.5 915.7,1341.2 918.3,1340.9 920.9,1341.1 923.5,1341 926.1,1340.9 928.7,1340.6 931.4,1340.6 934,1340.8 936.6,1341 939.2,1340.7 941.8,1340.4 944.4,1340.4 947,1340.9 949.6,1341 952.2,1341.6 954.8,1341.9 957.5,1341.8 960.1,1341.2 962.7,1341.3 965.3,1341.5 967.9,1340.8 970.5,1340.3 973.1,1340.4 975.7,1341.3 978.3,1341 981,1341.1 983.6,1340.8 986.2,1341.3 988.8,1341 991.4,1341 994,1341.1 996.6,1341.2 999.2,1341.4 1001.8,1341.1 1004.5,1340.9 1007.1,1340.6 1009.7,1340.5 1012.3,1340.6 1014.9,1341 1017.5,1340.9 1020.1,1340.4 1022.7,1340 1025.3,1340.8 1027.9,1341.6 1030.6,1341.9 1033.2,1341.8 1035.8,1341.4 1038.4,1340.9 1041,1340 1043.6,1339.8 1046.2,1340.1 1048.8,1340.5 1051.4,1340 1054.1,1339.6 1056.7,1340 1059.3,1340.9 1061.9,1341.9 1064.5,1342 1067.1,1341.5 1069.7,1340.1 1072.3,1339.8 1074.9,1340.6 1077.6,1340.8 1080.2,1340.4 1082.8,1340.2 1085.4,1340.6 1088,1340.7 1090.6,1340.9 1093.2,1341.2 1095.8,1341.3 1098.4,1341.3 1101,1341.6 1103.7,1341.4 1106.3,1340.7 1108.9,1340.4 1111.5,1341.2 1114.1,1341.6 1116.7,1341.6 1119.3,1341.2 1121.9,1341.2 1124.5,1340.9 1127.2,1341 1129.8,1341 1132.4,1341.2 1135,1341.4 1137.6,1341.7 1140.2,1341.4 1142.8,1341.1 1145.4,1340.6 1148,1340.8 1150.7,1341.4 1153.3,1342 1155.9,1341.8 1158.5,1341.2 1161.1,1341.2 1163.7,1341.1 1166.3,1341.1 1168.9,1340.9 1171.5,1340.9 1174.1,1340.7 1176.8,1340.8 1179.4,1340.5 1182,1340.8 1184.6,1341.2 1187.2,1341 1189.8,1340.6 1192.4,1340.8 1195,1341.2 1197.6,1341.1 1200.3,1341 1202.9,1340.1 1205.5,1339.7 1208.1,1340.2 1210.7,1341.2 1213.3,1341.1 1215.9,1340.8 1218.5,1340.7 1221.1,1340.9 1223.8,1340.8 1226.4,1340.8 1229,1340.7 1231.6,1341 1234.2,1340.9 1236.8,1341 1239.4,1340.6 1242,1340.6 1244.6,1340.7 1247.2,1341.1 1249.9,1341.7 1252.5,1341.7 1255.1,1341.3 1257.7,1341.1 1260.3,1341" stroke="#d633ff" stroke-width="5.2" />
</g>
<clipPath id="i1"><rect x="1524.8" y="1217" width="780.2" height="234.5"/></clipPath>
<g clip-path="url(#i1)" fill="none" stroke-linejoin="round">
<path d="M1525.8,1450.5 1536.9,1444.3 1548,1438.1 1559.1,1432 1570.2,1425.9 1581.3,1420 1592.4,1414.1 1603.5,1408.4 1614.6,1402.7 1625.7,1397.1 1636.8,1391.6 1647.9,1386.2 1659.1,1380.8 1670.2,1375.6 1681.3,1370.3 1692.4,1365.1 1703.5,1360 1714.6,1354.9 1725.7,1349.8 1736.8,1344.7 1747.9,1339.6 1759,1334.6 1770.1,1329.7 1781.3,1324.8 1792.4,1319.9 1803.5,1315 1814.6,1310.2 1825.7,1305.4 1836.8,1300.6 1847.9,1295.8 1859,1291.1 1870.1,1286.4 1881.2,1281.7 1892.3,1277 1903.5,1272.4 1914.6,1267.8 1925.7,1263.2 1936.8,1258.6 1947.9,1254 1959,1249.5 1959,1249.5 1960.7,1248.5 1962.5,1247.7 1964.2,1246.9 1966,1246.3 1967.7,1246.5 1969.5,1247.6 1971.2,1249.1 1972.9,1251.4 1974.7,1254.1 1976.4,1257.4 1978.2,1261.2 1979.9,1265.1 1981.7,1269.2 1983.4,1273.5 1985.1,1277.8 1986.9,1282.2 1988.6,1286.6 1990.4,1290.9 1992.1,1295.3 1993.9,1299.7 1995.6,1304 1997.3,1308.4 1999.1,1312.7 2000.8,1317 2002.6,1321.3 2004.3,1325.2 2006.1,1328.9 2007.8,1332.4 2009.6,1335.4 2011.3,1338 2013,1340.3 2014.8,1342.4 2016.5,1344.4 2018.3,1346.3 2020,1348 2021.8,1349.5 2023.5,1350.9 2025.2,1352.1 2027,1353.3 2028.7,1354.1 2030.5,1354.7 2032.2,1355.2 2034,1355.5 2035.7,1355.6 2037.4,1355.7 2039.2,1355.7 2040.9,1355.6 2042.7,1355.4 2044.4,1355.2 2046.2,1354.8 2047.9,1354.4 2049.6,1353.9 2051.4,1353.3 2053.1,1352.8 2054.9,1352.2 2056.6,1351.7 2058.4,1351.2 2060.1,1350.6 2061.8,1350.1 2063.6,1349.6 2065.3,1349.1 2067.1,1348.7 2068.8,1348.2 2070.6,1347.8 2072.3,1347.4 2074,1347 2075.8,1346.6 2077.5,1346.3 2079.3,1346 2081,1345.6 2082.8,1345.3 2084.5,1345.1 2086.2,1344.8 2088,1344.5 2089.7,1344.3 2091.5,1344 2093.2,1343.8 2095,1343.6 2096.7,1343.4 2098.4,1343.3 2100.2,1343.2 2101.9,1343.1 2103.7,1343 2105.4,1342.9 2107.2,1342.8 2108.9,1342.8 2110.7,1342.8 2112.4,1342.8 2114.1,1342.8 2115.9,1342.8 2117.6,1342.8 2119.4,1342.9 2121.1,1342.9 2122.9,1343 2124.6,1343 2126.3,1343.1 2128.1,1343.3 2129.8,1343.4 2131.6,1343.6 2133.3,1343.8 2135.1,1343.9 2136.8,1344 2138.5,1344.1 2140.3,1344.2 2142,1344.3 2143.8,1344.3 2145.5,1344.4 2147.3,1344.5 2149,1344.5 2460.1,1344.4" stroke="#ff0000" stroke-width="2.8" />
<path d="M1525.8,1450.5 1575.9,1253.8 1578.2,1244.8 1580.6,1259.3 1604.7,1410.8 1607,1425.3 1608.4,1426 1610.3,1426.6 1611.7,1427.1 1614,1417.9 1650.6,1272.4 1653,1263.2 1655.3,1277.6 1674,1393.5 1676.3,1407.9 1677.8,1408.5 1679.8,1409.1 1681.3,1409.5 1683.7,1400 1711.8,1285.5 1714.2,1276.2 1716.5,1290.3 1731,1378.9 1733.3,1393.1 1734.5,1395.2 1736,1397.9 1737.1,1399.9 1739.4,1390.3 1758.6,1310.6 1760.9,1300.9 1762.3,1298.7 1764.2,1295.9 1765.6,1294 1767.9,1307.9 1777.7,1366.8 1780.1,1380.8 1781.6,1381.5 1783.5,1382.4 1785,1382.9 1787.4,1373.1 1800.6,1316.9 1802.9,1307.2 1805.3,1318.4 1814.6,1364.1 1817,1375.5 1818.1,1373.8 1819.7,1371.6 1820.9,1369.8 1823.2,1360.7 1832.7,1323.4 1835,1314.4 1837.4,1327.2 1842.7,1356.6 1845,1369.5 1847.3,1361.2 1852.8,1341.7 1855.1,1333.4 1856.2,1333.1 1857.7,1332.9 1858.9,1332.8 1860.3,1340.9 1862.2,1351.9 1863.7,1360 1866,1353.9 1870.2,1342.9 1872.6,1336.8 1874.1,1341.4 1876.2,1347.6 1877.7,1352.2 1879.1,1348.6 1881,1343.7 1882.4,1340.2 1883.8,1342.2 1885.6,1344.9 1887,1346.9 1888.4,1345.8 1890.3,1344.2 1891.7,1343.1 1894.1,1343.5 1899.5,1344.4 2304.4,1344.4" stroke="#0000ff" stroke-width="2.8" />
<path d="M1525.8,1450.5 1530.6,1445.9 1535.5,1441.4 1540.4,1437 1545.3,1432.7 1550.2,1428.5 1555.1,1424.4 1560,1420.4 1564.8,1416.5 1569.7,1412.7 1574.6,1409 1579.5,1405.4 1584.4,1401.8 1589.3,1398.2 1594.2,1394.7 1599.1,1391.1 1603.9,1387.6 1608.8,1384.2 1613.7,1380.8 1618.6,1377.5 1623.5,1374.1 1628.4,1370.8 1633.3,1367.5 1638.1,1364.1 1643,1360.8 1647.9,1357.5 1652.8,1354.2 1657.7,1350.9 1662.6,1347.6 1667.5,1344.4 2304.4,1344.4" stroke="#00dc00" stroke-width="2.8" />
<path d="M1525.8,1450.5 1532.2,1439.8 1538.6,1429.3 1545,1419.1 1551.4,1409 1557.8,1399.2 1564.2,1389.6 1570.6,1380.2 1577.1,1370.9 1583.5,1361.9 1589.9,1353 1596.3,1344.4 2304.4,1344.4" stroke="#d633ff" stroke-width="3" />
</g>
<rect x="1525.8" y="1217" width="778.7" height="233.5" fill="none" stroke="#000" stroke-width="1.4"/>
<path d="M1603.6,1450.5v-3.5M1681.5,1450.5v-6.5M1759.3,1450.5v-3.5M1837.2,1450.5v-6.5M1915.1,1450.5v-3.5M1992.9,1450.5v-6.5M2070.8,1450.5v-3.5M2148.7,1450.5v-6.5M2226.5,1450.5v-3.5M1525.8,1344.4h6.5M1525.8,1238.2h6.5M1525.8,1397.4h3.5M1525.8,1291.3h3.5" stroke="#000" stroke-width="1.4" fill="none"/>
<g font-family="'Liberation Serif',serif" font-size="26.5" fill="#000">
<text x="1519" y="1459.4" text-anchor="end">500</text>
<text x="1519" y="1353.3" text-anchor="end">1000</text>
<text x="1519" y="1247.1" text-anchor="end">1500</text>
<text x="1525.8" y="1477.6" text-anchor="middle">2.0</text>
<text x="1681.5" y="1477.6" text-anchor="middle">2.1</text>
<text x="1837.2" y="1477.6" text-anchor="middle">2.2</text>
<text x="1992.9" y="1477.6" text-anchor="middle">2.3</text>
<text x="2148.7" y="1477.6" text-anchor="middle">2.4</text>
<text x="2304.4" y="1477.6" text-anchor="middle">2.5</text>
</g>
<ellipse cx="1332" cy="1143.3" rx="136" ry="229.5" fill="none" stroke="#000" stroke-width="5"/>
<path d="M1431,1304.3H1481" fill="none" stroke="#000" stroke-width="4.4"/>
<path d="M1466.1,1287.8L1482.1,1304.3L1466.1,1320.8" fill="none" stroke="#000" stroke-width="5" stroke-linejoin="miter"/>
<rect x="2001.7" y="907" width="310.4" height="221.7" fill="#fff" stroke="#000" stroke-width="1.8"/>
<path d="M2007.1,937.7H2107.1" stroke="#ff0000" stroke-width="4"/>
<path d="M2007.1,991.9H2107.1" stroke="#0000ff" stroke-width="4"/>
<path d="M2007.1,1044.9H2107.1" stroke="#00dc00" stroke-width="4"/>
<path d="M2007.1,1098.8H2107.1" stroke="#d633ff" stroke-width="4"/>
<g font-family="'Liberation Serif',serif" font-size="48" fill="#000">
<text x="2118.6" y="953.3" textLength="93.5" lengthAdjust="spacingAndGlyphs">SMC</text>
<text x="2118.6" y="1006.8" textLength="107.5" lengthAdjust="spacingAndGlyphs">ISMC</text>
<text x="2118.6" y="1060.5" textLength="135.7" lengthAdjust="spacingAndGlyphs">ITSMC</text>
<text x="2118.6" y="1114.6" textLength="187.8" lengthAdjust="spacingAndGlyphs">ITFTSMC</text>
</g>
<rect x="2319.3" y="906.2" width="42" height="630.8" fill="#fff"/>
<path d="M201.3,906.2H2319.3V1539" fill="none" stroke="#000" stroke-width="4" stroke-linejoin="miter"/>
<g font-family="'Liberation Serif',serif" font-size="51" fill="#000">
<text x="184.6" y="1551.4" text-anchor="end" textLength="26" lengthAdjust="spacingAndGlyphs">0</text>
<text x="184.6" y="1354.3" text-anchor="end" textLength="78" lengthAdjust="spacingAndGlyphs">500</text>
<text x="184.6" y="1157.2" text-anchor="end" textLength="104" lengthAdjust="spacingAndGlyphs">1000</text>
<text x="184.6" y="960" text-anchor="end" textLength="104" lengthAdjust="spacingAndGlyphs">1500</text>
<text x="203.3" y="1595" text-anchor="middle" textLength="26" lengthAdjust="spacingAndGlyphs">0</text>
<text x="1261.3" y="1595" text-anchor="middle" textLength="26" lengthAdjust="spacingAndGlyphs">2</text>
<text x="2319.3" y="1595" text-anchor="middle" textLength="26" lengthAdjust="spacingAndGlyphs">4</text>
</g>
<text font-family="'Liberation Serif',serif" x="1265.6" y="1658.8" font-size="53" text-anchor="middle" textLength="163" lengthAdjust="spacingAndGlyphs">time (s)</text>
<text font-family="'Liberation Serif',serif" transform="translate(50,1249.3) rotate(-90)" font-size="52.5" text-anchor="middle" textLength="155" lengthAdjust="spacingAndGlyphs">n (rpm)</text>
</g>
<g id="plot3">
<rect x="203.3" y="1771.2" width="2116" height="630.8" fill="none" stroke="#000" stroke-width="4"/>
<path d="M203.3,2261.8h16.7M203.3,2121.6h16.7M203.3,1981.5h16.7M203.3,1841.3h16.7M203.3,2331.9h8.4M203.3,2191.7h8.4M203.3,2051.6h8.4M203.3,1911.4h8.4M1261.3,2402v-16.7M732.3,2402v-8.0M1790.3,2402v-8.0" stroke="#000" stroke-width="4" fill="none"/>
<clipPath id="c2"><rect x="202.7" y="1771.2" width="2116.4" height="631.2"/></clipPath>
<g clip-path="url(#c2)" fill="none" stroke-linejoin="round" stroke-linecap="butt">
<path d="M203.7,2402.3 205.6,2400.4 207.5,2398.5 209.5,2396.5 211.4,2394.6 213.4,2392.7 215.3,2390.9 217.2,2389 219.2,2386.6 221.1,2383.7 223,2379.7 225,2372.8 226.9,2361.2 228.9,2350.2 230.8,2342.8 232.7,2337.4 234.7,2333.1 236.6,2329.4 238.5,2326.3 240.5,2323.8 242.4,2322.1 244.3,2320.8 246.3,2320 248.2,2319.5 250.2,2319 252.1,2318.7 254,2318.5 256,2318.5 257.9,2318.6 259.8,2318.8 261.8,2319 263.7,2319.3 265.7,2319.5 267.6,2319.8 269.5,2320.1 271.5,2320.4 273.4,2320.8 275.3,2321.1 277.3,2321.5 279.2,2321.9 281.2,2322.3 283.1,2322.6 285,2323 287,2323.3 288.9,2323.7 290.8,2324.1 292.8,2324.5 294.7,2324.8 296.7,2325.1 298.6,2325.5 300.5,2325.7 302.5,2326 304.4,2326.3 306.3,2326.5 308.3,2326.8 310.2,2327 312.2,2327.2 314.1,2327.4 316,2327.6 318,2327.8 319.9,2328 321.8,2328.1 323.8,2328.3 325.7,2328.5 327.6,2328.6 329.6,2328.8 331.5,2328.9 333.5,2329 335.4,2329.2 337.3,2329.3 339.3,2329.4 341.2,2329.5 343.1,2329.6 345.1,2329.7 347,2329.7 349,2329.8 350.9,2329.9 352.8,2330 354.8,2330.1 356.7,2330.1 358.6,2330.2 360.6,2330.3 362.5,2330.3 364.5,2330.4 366.4,2330.4 368.3,2330.5 370.3,2330.6 372.2,2330.6 374.1,2330.6 376.1,2330.7 378,2330.7 380,2330.8 381.9,2330.8 383.8,2330.9 385.8,2330.9 387.7,2330.9 389.6,2331 391.6,2331 393.5,2331 395.5,2331.1 397.4,2331.1 399.3,2331.1 401.3,2331.2 403.2,2331.2 405.1,2331.2 407.1,2331.2 409,2331.3 411,2331.3 412.9,2331.3 414.8,2331.3 416.8,2331.3 418.7,2331.3 420.6,2331.4 422.6,2331.4 424.5,2331.4 426.4,2331.4 428.4,2331.4 430.3,2331.4 432.3,2331.4 434.2,2331.4 436.1,2331.5 438.1,2331.5 440,2331.5 441.9,2331.5 443.9,2331.5 445.8,2331.5 447.8,2331.5 449.7,2331.5 451.6,2331.5 453.6,2331.5 455.5,2331.5 457.4,2331.6 459.4,2331.6 461.3,2331.6 463.3,2331.6 465.2,2331.6 467.1,2331.6 469.1,2331.6 471,2331.6 472.9,2331.6 474.9,2331.6 476.8,2331.6 478.8,2331.6 480.7,2331.6 482.6,2331.6 484.6,2331.6 486.5,2331.6 488.4,2331.6 490.4,2331.6 492.3,2331.7 494.3,2331.7 496.2,2331.7 498.1,2331.7 500.1,2331.7 502,2331.7 503.9,2331.7 505.9,2331.7 507.8,2331.7 509.8,2331.7 511.7,2331.7 513.6,2331.7 515.6,2331.7 517.5,2331.7 519.4,2331.7 521.4,2331.7 523.3,2331.7 525.2,2331.7 527.2,2331.7 529.1,2331.7 531.1,2331.7 533,2331.8 534.9,2331.8 536.9,2331.8 538.8,2331.8 540.7,2331.8 542.7,2331.8 544.6,2331.8 546.6,2331.8 548.5,2331.8 550.4,2331.8 552.4,2331.8 554.3,2331.8 556.2,2331.8 558.2,2331.8 560.1,2331.8 562.1,2331.8 564,2331.8 565.9,2331.8 567.9,2331.8 569.8,2331.8 571.7,2331.8 573.7,2331.8 575.6,2331.9 577.6,2331.9 579.5,2331.9 581.4,2331.9 583.4,2331.9 585.3,2331.9 587.2,2331.9 589.2,2331.9 591.1,2331.9 593.1,2331.9 595,2331.9 596.9,2331.9 598.9,2331.9 600.8,2331.9 602.7,2331.9 604.7,2331.9 606.6,2331.9 608.5,2331.9 610.5,2331.9 612.4,2331.9 614.4,2331.9 616.3,2331.9 618.2,2331.9 620.2,2331.9 622.1,2331.9 624,2331.9 626,2331.9 627.9,2331.9 629.9,2332 631.8,2332 633.7,2332 635.7,2332 637.6,2332 639.5,2332 641.5,2332 643.4,2332 645.4,2332 647.3,2332 649.2,2332 651.2,2332 653.1,2332 655,2332 657,2332 658.9,2332 660.9,2332 662.8,2332 664.7,2332 666.7,2332 1261.3,2332 1266.2,2319.2 1271.2,2306.5 1276.1,2294 1281.1,2281.5 1286,2269.1 1291,2256.8 1295.9,2244.6 1300.9,2232.5 1305.8,2220.4 1310.8,2208.4 1315.7,2196.4 1320.7,2184.4 1325.6,2172.6 1330.6,2160.9 1335.5,2149.3 1340.4,2137.9 1345.4,2126.8 1350.3,2115.9 1355.3,2105.4 1360.2,2095.2 1365.2,2085.1 1370.1,2075.2 1375.1,2065.4 1380,2055.5 1385,2045.6 1389.9,2035.8 1394.9,2026.1 1399.8,2016.3 1404.8,2006.4 1409.7,1996.4 1414.6,1986.2 1419.6,1975.8 1424.5,1965.3 1429.5,1954.7 1434.4,1944 1439.4,1933.4 1444.3,1922.8 1449.3,1912.1 1454.2,1901.4 1459.2,1890.7 1464.1,1880.1 1469.1,1869.6 1474,1859.1 1479,1848.7 1483.9,1838.5 1488.8,1828.8 1493.8,1819.3 1498.7,1810.2 1503.7,1801.3 1503.7,1801.3 1504.4,1799.7 1505.2,1798.7 1505.9,1798.1 1506.6,1801 1507.4,1806.8 1508.1,1814.4 1508.8,1821.9 1509.6,1829.1 1510.3,1836.6 1511,1845 1511.8,1854 1512.5,1863.2 1513.2,1872.8 1514,1882.5 1514.7,1892.1 1515.5,1901.7 1516.2,1911.1 1516.9,1919.9 1517.7,1928.7 1518.4,1937.5 1519.1,1946.3 1519.9,1955.1 1520.6,1964 1521.3,1972.9 1522.1,1981.4 1522.8,1989.5 1523.5,1997.5 1524.3,2005.5 1525,2013.6 1525.7,2021.7 1526.5,2029.8 1527.2,2037.9 1528,2046 1528.7,2054.2 1529.4,2062.1 1530.2,2069.6 1530.9,2076.8 1531.6,2084.2 1532.4,2091.6 1533.1,2098.9 1533.8,2105.9 1534.6,2112.5 1535.3,2118.5 1536,2124.1 1536.8,2128.7 1537.5,2131.6 1538.2,2133.8 1539,2134.5 1539.7,2133.6 1540.5,2131.7 1541.2,2129 1541.9,2124.7 1542.7,2120.3 1543.4,2116.7 1544.1,2113.3 1544.9,2110 1545.6,2106.6 1546.3,2103.1 1547.1,2099.6 1547.8,2096.2 1548.5,2092.9 1549.3,2089.8 1550,2086.8 1550.8,2083.9 1551.5,2081.1 1552.2,2078.3 1553,2075.6 1553.7,2073 1554.4,2070.5 1555.2,2068 1555.9,2065.4 1556.6,2062.8 1557.4,2060.2 1558.1,2057.7 1558.8,2055.1 1559.6,2052.5 1560.3,2050 1561,2047.6 1561.8,2045.2 1562.5,2042.7 1563.3,2040.2 1564,2037.5 1564.7,2035 1565.5,2032.9 1566.2,2031 1566.9,2029.3 1567.7,2028.2 1568.4,2027.6 1569.1,2027.1 1569.9,2026.8 1570.6,2026.8 1571.3,2027.2 1572.1,2027.7 1572.8,2028.4 1573.5,2029.2 1574.3,2030.1 1575,2031.3 1575.8,2032.5 1576.5,2033.8 1577.2,2035.3 1578,2036.8 1578.7,2038.4 1579.4,2039.9 1580.2,2041.3 1580.9,2042.6 1581.6,2044 1582.4,2045.3 1583.1,2046.5 1583.8,2047.6 1584.6,2048.6 1585.3,2049.6 1586,2050.5 1586.8,2051.3 1587.5,2052 1588.3,2052.6 1589,2053.2 1589.7,2053.7 1590.5,2054.1 1591.2,2054.4 1591.9,2054.6 1592.7,2054.8 1593.4,2054.9 1594.1,2055 1594.9,2055.1 1595.6,2055.1 1596.3,2055 1597.1,2055 1597.8,2054.9 1598.5,2054.8 1599.3,2054.7 1600,2054.6 1600.8,2054.5 1601.5,2054.3 1602.2,2054.2 1603,2054.1 1603.7,2054 1604.4,2053.8 1605.2,2053.7 1605.9,2053.5 1606.6,2053.4 1607.4,2053.3 1608.1,2053.2 1608.8,2053 1609.6,2053 1610.3,2052.9 1611,2052.8 1611.8,2052.7 1612.5,2052.6 1613.3,2052.6 1614,2052.5 1614.7,2052.4 1615.5,2052.4 1616.2,2052.3 1616.9,2052.2 1617.7,2052.2 1618.4,2052.1 1619.1,2052.1 1619.9,2052.1 1620.6,2052.2 1628.6,2052.2" stroke="#ff0000" stroke-width="4.6" />
<path d="M204.1,2392 204.5,2299.5 204.9,2303.7 205.4,2333.3 205.9,2306.6 206.4,2334.1 206.9,2313.5 207.4,2336.1 207.9,2318.4 208.4,2339.3 208.9,2320.3 209.4,2342.7 209.9,2322.1 210.4,2344 210.8,2323.9 211.3,2342.4 211.8,2325.2 212.3,2339 212.8,2326.5 213.3,2335.8 213.8,2327.7 214.3,2334 214.8,2329.4 215.3,2333.3 215.8,2331.1 216.3,2333.1 217.8,2332.1 230.1,2332.3 242.3,2332.1 254.6,2332.4 266.9,2332.2 279.1,2332.2 291.4,2332.3 303.7,2331.8 315.9,2331.9 328.2,2332.1 340.4,2332.1 352.7,2332.4 365,2332.3 377.2,2332 389.5,2332.1 401.8,2331.9 414,2331.9 426.3,2331.9 438.6,2332.2 450.8,2331.9 463.1,2331.9 475.4,2332 487.6,2331.9 499.9,2331.9 512.2,2331.5 524.4,2332.1 536.7,2331.9 548.9,2332.1 561.2,2332.1 573.5,2331.5 585.7,2332.6 598,2332.1 610.3,2332.1 622.5,2331.6 634.8,2332.2 647.1,2332.1 659.3,2331.9 671.6,2332.1 683.9,2332.3 696.1,2331.9 708.4,2331.8 720.7,2332.4 732.9,2332.1 745.2,2332 757.4,2332.6 769.7,2332.1 782,2332 794.2,2332.1 806.5,2331.9 818.8,2332.1 831,2332.1 843.3,2331.9 855.6,2332 867.8,2332.1 880.1,2332.1 892.4,2332.2 904.6,2332.2 916.9,2332.1 929.2,2332.2 941.4,2331.9 953.7,2332 965.9,2332.3 978.2,2331.5 990.5,2332.1 1002.7,2332.6 1015,2331.6 1027.3,2332.4 1039.5,2331.6 1051.8,2332.1 1064.1,2332.4 1076.3,2332.4 1088.6,2331.8 1100.9,2331.7 1113.1,2331.7 1125.4,2332.2 1137.7,2331.9 1149.9,2332 1162.2,2332.1 1174.4,2332.1 1186.7,2332.1 1199,2332 1211.2,2331.6 1223.5,2332.4 1235.8,2331.4 1248,2332.3 1260.3,2331.9 1261.3,2332 1290,1799.9 1290.3,1794.1 1290.7,1803.5 1305.9,2262.1 1306.3,2271.6 1306.6,2272.1 1307.4,2273.3 1307.7,2273.7 1308,2267.5 1329.6,1842.6 1329.9,1836.5 1330.2,1845.5 1344.1,2241.5 1344.4,2250.5 1344.7,2244.2 1363,1876.4 1363.3,1870.1 1363.7,1879.5 1374.1,2191.4 1374.5,2200.8 1374.8,2201.3 1375.5,2202.5 1375.8,2202.9 1376.1,2196.5 1390,1914.3 1390.3,1908 1390.6,1916.2 1400.1,2164.1 1400.4,2172.4 1400.7,2173.1 1401.1,2173.9 1401.4,2174.5 1401.7,2168.1 1412.5,1947.6 1412.9,1941.2 1413.2,1940.8 1414,1939.8 1414.3,1939.5 1414.6,1948.7 1421.5,2150.6 1421.9,2159.7 1422.2,2153.7 1431.5,1972.9 1431.8,1966.8 1432.1,1966.4 1432.9,1965.4 1433.2,1965.1 1433.5,1973.5 1439.3,2127.5 1439.6,2135.9 1439.9,2129.4 1447.1,1980.3 1447.4,1973.9 1447.7,1981.7 1452.3,2096.9 1452.6,2104.8 1453,2105.3 1453.8,2106.5 1454.1,2106.9 1454.4,2100.6 1458.9,2009.5 1459.3,2003.2 1459.5,2002.9 1459.9,2002.5 1460.2,2002.2 1460.5,2011.3 1463.2,2087.6 1463.5,2096.7 1463.8,2091 1467.7,2021.5 1468,2015.9 1468.3,2022.3 1471,2077 1471.3,2083.4 1471.6,2077.6 1474.1,2033.2 1474.4,2027.5 1474.7,2032.9 1476,2054.8 1476.3,2060.3 1476.6,2058.3 1478.7,2044.9 1479,2042.8 1479.3,2045.4 1480.7,2057 1481,2059.6 1481.4,2057.7 1482.6,2050 1483,2048.1 1483.3,2048.8 1484.7,2052.2 1485.1,2053 1485.4,2052.8 1487.7,2052.1 1493.7,2052.1" stroke="#0000ff" stroke-width="4.6" />
<path d="M203.6,2402 204.8,2385 206.8,2350 207.8,2336 209.3,2333.9 211.6,2333.6 213.9,2333.7 216.2,2334 218.5,2333.8 220.8,2333.2 223.2,2334.7 225.5,2333.6 227.8,2335.1 230.1,2333.9 232.4,2333.5 234.7,2334.4 237,2334.7 239.3,2333.3 241.6,2333.8 243.9,2335.2 246.3,2333.2 248.6,2333.3 250.9,2334.2 253.2,2333.1 255.5,2332.2 257.8,2332.7 260.1,2334.3 262.4,2334.6 264.7,2334.5 267,2334.3 269.4,2333 271.7,2334.6 274,2335 276.3,2333.5 278.6,2334.8 280.9,2333.7 283.2,2334.2 285.5,2334.3 287.8,2332.8 290.1,2335.2 292.5,2333.3 294.8,2334 297.1,2333.6 299.4,2334.4 301.7,2334.4 304,2334 306.3,2335.2 308.6,2334.3 310.9,2333.7 313.2,2332.2 315.6,2333.8 317.9,2333.8 320.2,2333.3 322.5,2333.3 324.8,2334.5 327.1,2334.9 329.4,2335.5 331.7,2334.9 334,2333.5 336.3,2334.2 338.7,2332.9 341,2334.6 343.3,2334.3 345.6,2333.5 347.9,2333.9 350.2,2333.8 352.5,2333.5 354.8,2335.1 357.1,2335.8 359.4,2334.7 361.8,2334.9 364.1,2334.2 366.4,2333.8 368.7,2335.8 371,2333.7 373.3,2334.4 375.6,2333.9 377.9,2334.5 380.2,2334 382.5,2334.5 384.9,2333 387.2,2334 389.5,2335.1 391.8,2333.2 394.1,2333.5 396.4,2335.1 398.7,2334.4 401,2334.9 403.3,2332.2 405.6,2334.2 408,2333 410.3,2332.9 412.6,2334.4 414.9,2335 417.2,2332.8 419.5,2333.1 421.8,2333.6 424.1,2333.9 426.4,2333 428.7,2335.8 431,2334.5 433.4,2333.7 435.7,2333.6 438,2335.8 440.3,2335.8 442.6,2333.6 444.9,2334.3 447.2,2335 449.5,2333.1 451.8,2333.6 454.1,2335.1 456.5,2333.5 458.8,2333.7 461.1,2332.9 463.4,2333.4 465.7,2334.6 468,2333.4 470.3,2333 472.6,2333.5 474.9,2335.4 477.2,2334.2 479.6,2333.6 481.9,2334.1 484.2,2334.4 486.5,2334.1 488.8,2332.6 491.1,2334.3 493.4,2333.8 495.7,2334.7 498,2332.9 500.3,2334.9 502.7,2333.6 505,2332.6 507.3,2335.1 509.6,2333.6 511.9,2334.3 514.2,2333.9 516.5,2334.9 518.8,2334.9 521.1,2334.9 523.4,2334.6 525.8,2332.7 528.1,2332.6 530.4,2334.2 532.7,2333.2 535,2334.4 537.3,2334.1 539.6,2332.9 541.9,2333.2 544.2,2333.1 546.5,2333.3 548.9,2333.8 551.2,2334.5 553.5,2335.1 555.8,2333.2 558.1,2333.5 560.4,2335.3 562.7,2334.7 565,2334.2 567.3,2332.2 569.6,2333.2 572,2334.1 574.3,2333.5 576.6,2335.6 578.9,2334.1 581.2,2334.2 583.5,2333.1 585.8,2333.2 588.1,2333.5 590.4,2333.5 592.7,2333.8 595.1,2334.3 597.4,2334.2 599.7,2334.8 602,2332.9 604.3,2334.2 606.6,2334.2 608.9,2335.3 611.2,2333.8 613.5,2334.3 615.8,2333.3 618.2,2334.3 620.5,2334.3 622.8,2333.5 625.1,2333.6 627.4,2334 629.7,2334.5 632,2333.1 634.3,2334.7 636.6,2333.7 638.9,2335.5 641.2,2335.2 643.6,2333.7 645.9,2333.5 648.2,2335.8 650.5,2334.5 652.8,2334.5 655.1,2333.7 657.4,2333.9 659.7,2334.6 662,2334.5 664.3,2333.3 666.7,2335 669,2334.2 671.3,2333.2 673.6,2334.8 675.9,2333.9 678.2,2334.6 680.5,2333.6 682.8,2334.3 685.1,2332.7 687.4,2334.3 689.8,2332.8 692.1,2334.1 694.4,2332.2 696.7,2333.9 699,2334.6 701.3,2334.4 703.6,2335 705.9,2333.1 708.2,2335.3 710.5,2335.3 712.9,2333 715.2,2333.4 717.5,2333.5 719.8,2334 722.1,2334.1 724.4,2332.2 726.7,2334.5 729,2333.8 731.3,2333.2 733.6,2334.8 736,2333.7 738.3,2334.9 740.6,2334.4 742.9,2333.7 745.2,2334.9 747.5,2334.6 749.8,2333.6 752.1,2332.7 754.4,2333.6 756.7,2334.5 759.1,2333.8 761.4,2335.4 763.7,2334.2 766,2334.2 768.3,2334.3 770.6,2333.3 772.9,2333.9 775.2,2333.5 777.5,2332.2 779.8,2332.6 782.2,2334.6 784.5,2333.6 786.8,2333.9 789.1,2332.8 791.4,2333.5 793.7,2334.6 796,2334.1 798.3,2333.6 800.6,2335.2 802.9,2333.9 805.3,2333.7 807.6,2334.9 809.9,2332.6 812.2,2334.4 814.5,2333.1 816.8,2333.4 819.1,2333.4 821.4,2334.1 823.7,2334.1 826,2334.2 828.4,2334.2 830.7,2335.1 833,2335.4 835.3,2334.6 837.6,2334.6 839.9,2333.7 842.2,2333.1 844.5,2334.5 846.8,2334 849.1,2334.7 851.4,2332.5 853.8,2335.8 856.1,2333 858.4,2334 860.7,2334.8 863,2332.9 865.3,2333.6 867.6,2332.4 869.9,2332.8 872.2,2332.4 874.5,2334.1 876.9,2334.2 879.2,2333.7 881.5,2335 883.8,2335.1 886.1,2334 888.4,2333.8 890.7,2333.8 893,2333.6 895.3,2335.1 897.6,2334.2 900,2333.7 902.3,2333.8 904.6,2334.4 906.9,2333.7 909.2,2334.3 911.5,2334 913.8,2335.1 916.1,2334.9 918.4,2332.9 920.7,2333.9 923.1,2334.6 925.4,2333.6 927.7,2334.7 930,2334.3 932.3,2334.5 934.6,2334 936.9,2334.2 939.2,2334.4 941.5,2332.8 943.8,2333.3 946.2,2333.2 948.5,2335.4 950.8,2334.2 953.1,2334.3 955.4,2334.1 957.7,2333.6 960,2333.4 962.3,2334.7 964.6,2333.7 966.9,2335.3 969.3,2334.2 971.6,2334.1 973.9,2333.8 976.2,2333.9 978.5,2334 980.8,2335.2 983.1,2335.8 985.4,2333.1 987.7,2334.2 990,2334.6 992.4,2333.3 994.7,2333.5 997,2333.6 999.3,2332.2 1001.6,2334.5 1003.9,2334 1006.2,2333.9 1008.5,2334.1 1010.8,2334.2 1013.1,2335.8 1015.5,2334.2 1017.8,2334.7 1020.1,2333.6 1022.4,2334.3 1024.7,2333.8 1027,2333.9 1029.3,2333.3 1031.6,2333.4 1033.9,2334.4 1036.2,2334.6 1038.6,2334.4 1040.9,2333.5 1043.2,2334.3 1045.5,2332.2 1047.8,2334.8 1050.1,2334 1052.4,2334.2 1054.7,2334.9 1057,2333.7 1059.3,2334.8 1061.6,2333.7 1064,2334.5 1066.3,2333.7 1068.6,2334.3 1070.9,2335.2 1073.2,2333.5 1075.5,2333.5 1077.8,2333.8 1080.1,2334.3 1082.4,2335.8 1084.7,2333.6 1087.1,2332.4 1089.4,2333.5 1091.7,2332.7 1094,2333.6 1096.3,2334 1098.6,2333.3 1100.9,2333.5 1103.2,2332.5 1105.5,2334.2 1107.8,2333.4 1110.2,2334.9 1112.5,2334.9 1114.8,2333.3 1117.1,2333.7 1119.4,2334.1 1121.7,2334.6 1124,2332.7 1126.3,2334 1128.6,2335.5 1130.9,2334 1133.3,2334.2 1135.6,2334 1137.9,2333.1 1140.2,2334.8 1142.5,2334.2 1144.8,2334.2 1147.1,2334.6 1149.4,2334.7 1151.7,2332.5 1154,2334.4 1156.4,2333.6 1158.7,2334.2 1161,2333.5 1163.3,2333.3 1165.6,2334.8 1167.9,2334 1170.2,2333.8 1172.5,2333.8 1174.8,2334.1 1177.1,2334 1179.5,2332.2 1181.8,2333.3 1184.1,2333.9 1186.4,2334.6 1188.7,2335.1 1191,2333.3 1193.3,2335.6 1195.6,2334.1 1197.9,2334.4 1200.2,2333.6 1202.6,2333.6 1204.9,2335.2 1207.2,2333.9 1209.5,2334 1211.8,2335 1214.1,2335.4 1216.4,2332.9 1218.7,2333.9 1221,2334.1 1223.3,2335.5 1225.7,2335.8 1228,2334 1230.3,2334.4 1232.6,2334.8 1234.9,2335 1237.2,2333.8 1239.5,2334.8 1241.8,2333.5 1244.1,2332.2 1246.4,2333 1248.8,2334.2 1251.1,2334.7 1253.4,2332.3 1255.7,2332.6 1258,2334.1 1260.3,2332.2 1261.3,2334 1264.4,2320.1 1267.5,2308.5 1270.6,2297 1273.6,2285.8 1276.7,2274.8 1279.8,2263.9 1282.9,2253.3 1286,2243 1289.1,2232.9 1292.1,2222.9 1295.2,2213.1 1298.3,2203.4 1301.4,2193.8 1304.5,2184.3 1307.6,2174.8 1310.7,2165.4 1313.7,2155.9 1316.8,2146.6 1319.9,2137.3 1323,2128.1 1326.1,2119.1 1329.2,2110.2 1332.2,2101.5 1335.3,2092.9 1338.4,2084.4 1341.5,2076 1344.6,2067.7 1347.7,2059.6 1350.8,2052.1 1356.8,2052.1" stroke="#00dc00" stroke-width="4.6" />
<path d="M203.5,2402 204.2,2370 205.3,2335 206.8,2333.3 209.4,2332.6 212,2332.4 214.6,2332.4 217.2,2333.4 219.8,2333.4 222.4,2333.3 225.1,2332.9 227.7,2333.1 230.3,2333.3 232.9,2333.2 235.5,2332.6 238.1,2332.6 240.7,2332.7 243.3,2333.5 245.9,2333.5 248.5,2333.3 251.1,2332.7 253.7,2332.9 256.3,2332.9 259,2332.9 261.6,2333 264.2,2333.7 266.8,2333.8 269.4,2333 272,2332.7 274.6,2332.8 277.2,2333.6 279.8,2333.6 282.4,2333.8 285,2332.9 287.6,2332.7 290.2,2332.9 292.9,2333.4 295.5,2333.2 298.1,2333.4 300.7,2333.8 303.3,2333.7 305.9,2332.9 308.5,2332.6 311.1,2333 313.7,2333.1 316.3,2333 318.9,2332.5 321.5,2333 324.1,2333.1 326.8,2333.4 329.4,2333.3 332,2333.2 334.6,2333 337.2,2333.2 339.8,2333.1 342.4,2333 345,2333.7 347.6,2334 350.2,2333.8 352.8,2332.7 355.4,2332.8 358,2332.6 360.7,2333 363.3,2333 365.9,2332.8 368.5,2332.8 371.1,2332.9 373.7,2332.9 376.3,2332.6 378.9,2332.5 381.5,2332.7 384.1,2332.8 386.7,2332.9 389.3,2333 391.9,2332.7 394.6,2332.9 397.2,2332.4 399.8,2332.9 402.4,2333 405,2333.3 407.6,2332.7 410.2,2332.8 412.8,2332.9 415.4,2333 418,2333.1 420.6,2333.1 423.2,2333 425.8,2332.8 428.5,2333.3 431.1,2333.3 433.7,2333.2 436.3,2333 438.9,2333.2 441.5,2333.5 444.1,2333.4 446.7,2333 449.3,2332.6 451.9,2333 454.5,2333.5 457.1,2333.5 459.7,2333.3 462.4,2333.3 465,2333 467.6,2332.6 470.2,2332.3 472.8,2332.6 475.4,2332.9 478,2332.9 480.6,2333.2 483.2,2333.2 485.8,2333.1 488.4,2332.9 491,2333.4 493.6,2333.4 496.3,2333.2 498.9,2333.2 501.5,2333.3 504.1,2333.3 506.7,2332.9 509.3,2332.8 511.9,2332.3 514.5,2332.2 517.1,2332 519.7,2332.6 522.3,2332.9 524.9,2333.1 527.5,2332.7 530.2,2332.6 532.8,2332.6 535.4,2332.6 538,2332.8 540.6,2332.6 543.2,2332.7 545.8,2333.4 548.4,2333.7 551,2333.3 553.6,2332.3 556.2,2332.4 558.8,2332.1 561.4,2332.5 564.1,2332.6 566.7,2332.4 569.3,2331.9 571.9,2331.7 574.5,2332 577.1,2332.6 579.7,2333 582.3,2332.7 584.9,2332.2 587.5,2332.3 590.1,2332.1 592.7,2332.2 595.3,2332.6 598,2332.5 600.6,2332.4 603.2,2332.2 605.8,2332.6 608.4,2332.7 611,2332.8 613.6,2332.1 616.2,2331.7 618.8,2331.8 621.4,2332.2 624,2332.4 626.6,2332.5 629.2,2332.4 631.9,2332.5 634.5,2332.4 637.1,2332.6 639.7,2332.7 642.3,2332.7 644.9,2332.9 647.5,2332.9 650.1,2333 652.7,2332.6 655.3,2332.9 657.9,2332.9 660.5,2333.3 663.1,2333.6 665.8,2333.3 668.4,2333.6 671,2333.7 673.6,2333.5 676.2,2332.3 678.8,2332.8 681.4,2333.7 684,2334 686.6,2333.4 689.2,2333.4 691.8,2333.5 694.4,2333.1 697,2332.7 699.7,2332.9 702.3,2333.1 704.9,2332.8 707.5,2332.6 710.1,2332.4 712.7,2332.3 715.3,2332.5 717.9,2333.1 720.5,2333.3 723.1,2333 725.7,2333.2 728.3,2333.2 730.9,2332.6 733.5,2332.3 736.2,2331.7 738.8,2331.7 741.4,2331.8 744,2333.1 746.6,2333.5 749.2,2332.9 751.8,2332.7 754.4,2333.1 757,2333 759.6,2332.6 762.2,2332.2 764.8,2332.5 767.4,2332.8 770.1,2332.9 772.7,2333 775.3,2332.8 777.9,2332.7 780.5,2332.4 783.1,2332.4 785.7,2332.7 788.3,2332.9 790.9,2332.8 793.5,2332.5 796.1,2332.4 798.7,2332.7 801.3,2333 804,2333.5 806.6,2333.1 809.2,2332.7 811.8,2333 814.4,2333.4 817,2333.6 819.6,2333.6 822.2,2333.3 824.8,2333.1 827.4,2333.1 830,2333.6 832.6,2333.7 835.2,2333.7 837.9,2333.4 840.5,2333.1 843.1,2333 845.7,2333 848.3,2332.4 850.9,2332.7 853.5,2332.8 856.1,2333.2 858.7,2333 861.3,2333.1 863.9,2333 866.5,2332.9 869.1,2332.5 871.8,2332.2 874.4,2332.6 877,2332.9 879.6,2332.6 882.2,2332.8 884.8,2333.6 887.4,2334 890,2333.7 892.6,2333.3 895.2,2333.1 897.8,2333.3 900.4,2333.2 903,2332.6 905.7,2332.2 908.3,2331.9 910.9,2332.6 913.5,2332.9 916.1,2333.1 918.7,2332.8 921.3,2332.9 923.9,2333.1 926.5,2332.9 929.1,2332.4 931.7,2332.6 934.3,2332.9 936.9,2332.9 939.6,2332.3 942.2,2332.3 944.8,2332.5 947.4,2332.9 950,2332.8 952.6,2332.7 955.2,2332.5 957.8,2333 960.4,2332.8 963,2332.7 965.6,2332.7 968.2,2332.8 970.8,2332.6 973.5,2332.6 976.1,2332.7 978.7,2332.5 981.3,2332.8 983.9,2333.2 986.5,2333 989.1,2332.7 991.7,2332.8 994.3,2333.2 996.9,2333.5 999.5,2333.6 1002.1,2333.6 1004.7,2333.1 1007.4,2332.4 1010,2331.7 1012.6,2331.9 1015.2,2332 1017.8,2332.3 1020.4,2332.4 1023,2332.7 1025.6,2332.4 1028.2,2332.2 1030.8,2332.7 1033.4,2332.6 1036,2332.6 1038.6,2332.7 1041.3,2333.1 1043.9,2333.1 1046.5,2333.2 1049.1,2333.3 1051.7,2333.2 1054.3,2332.8 1056.9,2332.9 1059.5,2332.9 1062.1,2333 1064.7,2333 1067.3,2333.3 1069.9,2333 1072.5,2332.8 1075.2,2332.7 1077.8,2333 1080.4,2333.3 1083,2333.4 1085.6,2333.4 1088.2,2333.7 1090.8,2333.9 1093.4,2333.3 1096,2332.3 1098.6,2332.3 1101.2,2332.6 1103.8,2332.9 1106.4,2332.8 1109.1,2333.1 1111.7,2333.5 1114.3,2333.2 1116.9,2332.8 1119.5,2332.5 1122.1,2332.5 1124.7,2332.5 1127.3,2332.7 1129.9,2333 1132.5,2333.5 1135.1,2334 1137.7,2334 1140.3,2333.4 1143,2332.7 1145.6,2332.6 1148.2,2332.8 1150.8,2333 1153.4,2332.7 1156,2332.7 1158.6,2333.3 1161.2,2333.5 1163.8,2333.2 1166.4,2332.7 1169,2332.9 1171.6,2332.7 1174.2,2332.1 1176.9,2331.8 1179.5,2332.1 1182.1,2332.4 1184.7,2332.3 1187.3,2332.1 1189.9,2332.2 1192.5,2332.4 1195.1,2332.3 1197.7,2332.1 1200.3,2332.3 1202.9,2332.7 1205.5,2332.5 1208.1,2332.2 1210.8,2332.3 1213.4,2332.9 1216,2332.6 1218.6,2332.6 1221.2,2332.5 1223.8,2332.8 1226.4,2332.9 1229,2332.8 1231.6,2332.5 1234.2,2332.3 1236.8,2332.7 1239.4,2332.8 1242,2332.4 1244.7,2332 1247.3,2332.3 1249.9,2333 1252.5,2333.1 1255.1,2332.8 1257.7,2332.5 1260.3,2332.6 1261.3,2332.8 1264,2309.7 1266.6,2288.1 1269.3,2267.2 1272,2247.1 1274.6,2227.9 1277.3,2209.4 1280,2191.4 1282.7,2173.4 1285.3,2155.1 1288,2136.1 1290.7,2116.9 1293.3,2098.3 1296,2081.1 1298.7,2065.7 1301.3,2052 1304.3,2052 1313.5,2051.9 1322.6,2051.9 1331.8,2052 1340.9,2052 1350.1,2052 1359.2,2051.8 1368.4,2051.9 1377.5,2051.9 1386.6,2052.2 1395.8,2052.2 1404.9,2052 1414.1,2052.2 1423.2,2051.9 1432.4,2052 1441.5,2051.8 1450.6,2052 1459.8,2051.9 1468.9,2052 1478.1,2052.1 1487.2,2052 1496.4,2051.8 1505.5,2052 1514.7,2052 1523.8,2052 1532.9,2052.1 1542.1,2052 1551.2,2052 1560.4,2052.3 1569.5,2052.2 1578.7,2052 1587.8,2051.9 1596.9,2051.9 1606.1,2052.1 1615.2,2052.1 1624.4,2052.3 1633.5,2052 1642.7,2052 1651.8,2051.9 1661,2052 1670.1,2051.9 1679.2,2051.8 1688.4,2052.1 1697.5,2052 1706.7,2052.2 1715.8,2051.9 1725,2052 1734.1,2052.1 1743.2,2051.7 1752.4,2051.8 1761.5,2052.1 1770.7,2052 1779.8,2051.7 1789,2051.9 1798.1,2051.8 1807.3,2051.9 1816.4,2052.2 1825.5,2051.9 1834.7,2052.3 1843.8,2052 1853,2051.9 1862.1,2052.2 1871.3,2052.1 1880.4,2052.2 1889.5,2052.3 1898.7,2052.2 1907.8,2052.2 1917,2051.7 1926.1,2051.9 1935.3,2052.1 1944.4,2052 1953.6,2052.1 1962.7,2051.9 1971.8,2052.2 1981,2052.3 1990.1,2052.1 1999.3,2052.1 2008.4,2052.1 2017.6,2052.1 2026.7,2052 2035.8,2051.9 2045,2052 2054.1,2052 2063.3,2051.8 2072.4,2052 2081.6,2052 2090.7,2052 2099.9,2051.9 2109,2052.1 2118.1,2052.1 2127.3,2051.9 2136.4,2052.1 2145.6,2052.1 2154.7,2052.1 2163.9,2051.9 2173,2051.9 2182.1,2052 2191.3,2051.9 2200.4,2052.3 2209.6,2051.9 2218.7,2051.9 2227.9,2052.1 2237,2051.9 2246.2,2051.7 2255.3,2052 2264.4,2051.9 2273.6,2051.9 2282.7,2051.8 2291.9,2051.9 2301,2052 2310.2,2052 2319.3,2051.8" stroke="#d633ff" stroke-width="4.6" />
<path d="M206.8,2333.3 209.4,2332.6 212,2332.4 214.6,2332.4 217.2,2333.4 219.8,2333.4 222.4,2333.3 225.1,2332.9 227.7,2333.1 230.3,2333.3 232.9,2333.2 235.5,2332.6 238.1,2332.6 240.7,2332.7 243.3,2333.5 245.9,2333.5 248.5,2333.3 251.1,2332.7 253.7,2332.9 256.3,2332.9 259,2332.9 261.6,2333 264.2,2333.7 266.8,2333.8 269.4,2333 272,2332.7 274.6,2332.8 277.2,2333.6 279.8,2333.6 282.4,2333.8 285,2332.9 287.6,2332.7 290.2,2332.9 292.9,2333.4 295.5,2333.2 298.1,2333.4 300.7,2333.8 303.3,2333.7 305.9,2332.9 308.5,2332.6 311.1,2333 313.7,2333.1 316.3,2333 318.9,2332.5 321.5,2333 324.1,2333.1 326.8,2333.4 329.4,2333.3 332,2333.2 334.6,2333 337.2,2333.2 339.8,2333.1 342.4,2333 345,2333.7 347.6,2334 350.2,2333.8 352.8,2332.7 355.4,2332.8 358,2332.6 360.7,2333 363.3,2333 365.9,2332.8 368.5,2332.8 371.1,2332.9 373.7,2332.9 376.3,2332.6 378.9,2332.5 381.5,2332.7 384.1,2332.8 386.7,2332.9 389.3,2333 391.9,2332.7 394.6,2332.9 397.2,2332.4 399.8,2332.9 402.4,2333 405,2333.3 407.6,2332.7 410.2,2332.8 412.8,2332.9 415.4,2333 418,2333.1 420.6,2333.1 423.2,2333 425.8,2332.8 428.5,2333.3 431.1,2333.3 433.7,2333.2 436.3,2333 438.9,2333.2 441.5,2333.5 444.1,2333.4 446.7,2333 449.3,2332.6 451.9,2333 454.5,2333.5 457.1,2333.5 459.7,2333.3 462.4,2333.3 465,2333 467.6,2332.6 470.2,2332.3 472.8,2332.6 475.4,2332.9 478,2332.9 480.6,2333.2 483.2,2333.2 485.8,2333.1 488.4,2332.9 491,2333.4 493.6,2333.4 496.3,2333.2 498.9,2333.2 501.5,2333.3 504.1,2333.3 506.7,2332.9 509.3,2332.8 511.9,2332.3 514.5,2332.2 517.1,2332 519.7,2332.6 522.3,2332.9 524.9,2333.1 527.5,2332.7 530.2,2332.6 532.8,2332.6 535.4,2332.6 538,2332.8 540.6,2332.6 543.2,2332.7 545.8,2333.4 548.4,2333.7 551,2333.3 553.6,2332.3 556.2,2332.4 558.8,2332.1 561.4,2332.5 564.1,2332.6 566.7,2332.4 569.3,2331.9 571.9,2331.7 574.5,2332 577.1,2332.6 579.7,2333 582.3,2332.7 584.9,2332.2 587.5,2332.3 590.1,2332.1 592.7,2332.2 595.3,2332.6 598,2332.5 600.6,2332.4 603.2,2332.2 605.8,2332.6 608.4,2332.7 611,2332.8 613.6,2332.1 616.2,2331.7 618.8,2331.8 621.4,2332.2 624,2332.4 626.6,2332.5 629.2,2332.4 631.9,2332.5 634.5,2332.4 637.1,2332.6 639.7,2332.7 642.3,2332.7 644.9,2332.9 647.5,2332.9 650.1,2333 652.7,2332.6 655.3,2332.9 657.9,2332.9 660.5,2333.3 663.1,2333.6 665.8,2333.3 668.4,2333.6 671,2333.7 673.6,2333.5 676.2,2332.3 678.8,2332.8 681.4,2333.7 684,2334 686.6,2333.4 689.2,2333.4 691.8,2333.5 694.4,2333.1 697,2332.7 699.7,2332.9 702.3,2333.1 704.9,2332.8 707.5,2332.6 710.1,2332.4 712.7,2332.3 715.3,2332.5 717.9,2333.1 720.5,2333.3 723.1,2333 725.7,2333.2 728.3,2333.2 730.9,2332.6 733.5,2332.3 736.2,2331.7 738.8,2331.7 741.4,2331.8 744,2333.1 746.6,2333.5 749.2,2332.9 751.8,2332.7 754.4,2333.1 757,2333 759.6,2332.6 762.2,2332.2 764.8,2332.5 767.4,2332.8 770.1,2332.9 772.7,2333 775.3,2332.8 777.9,2332.7 780.5,2332.4 783.1,2332.4 785.7,2332.7 788.3,2332.9 790.9,2332.8 793.5,2332.5 796.1,2332.4 798.7,2332.7 801.3,2333 804,2333.5 806.6,2333.1 809.2,2332.7 811.8,2333 814.4,2333.4 817,2333.6 819.6,2333.6 822.2,2333.3 824.8,2333.1 827.4,2333.1 830,2333.6 832.6,2333.7 835.2,2333.7 837.9,2333.4 840.5,2333.1 843.1,2333 845.7,2333 848.3,2332.4 850.9,2332.7 853.5,2332.8 856.1,2333.2 858.7,2333 861.3,2333.1 863.9,2333 866.5,2332.9 869.1,2332.5 871.8,2332.2 874.4,2332.6 877,2332.9 879.6,2332.6 882.2,2332.8 884.8,2333.6 887.4,2334 890,2333.7 892.6,2333.3 895.2,2333.1 897.8,2333.3 900.4,2333.2 903,2332.6 905.7,2332.2 908.3,2331.9 910.9,2332.6 913.5,2332.9 916.1,2333.1 918.7,2332.8 921.3,2332.9 923.9,2333.1 926.5,2332.9 929.1,2332.4 931.7,2332.6 934.3,2332.9 936.9,2332.9 939.6,2332.3 942.2,2332.3 944.8,2332.5 947.4,2332.9 950,2332.8 952.6,2332.7 955.2,2332.5 957.8,2333 960.4,2332.8 963,2332.7 965.6,2332.7 968.2,2332.8 970.8,2332.6 973.5,2332.6 976.1,2332.7 978.7,2332.5 981.3,2332.8 983.9,2333.2 986.5,2333 989.1,2332.7 991.7,2332.8 994.3,2333.2 996.9,2333.5 999.5,2333.6 1002.1,2333.6 1004.7,2333.1 1007.4,2332.4 1010,2331.7 1012.6,2331.9 1015.2,2332 1017.8,2332.3 1020.4,2332.4 1023,2332.7 1025.6,2332.4 1028.2,2332.2 1030.8,2332.7 1033.4,2332.6 1036,2332.6 1038.6,2332.7 1041.3,2333.1 1043.9,2333.1 1046.5,2333.2 1049.1,2333.3 1051.7,2333.2 1054.3,2332.8 1056.9,2332.9 1059.5,2332.9 1062.1,2333 1064.7,2333 1067.3,2333.3 1069.9,2333 1072.5,2332.8 1075.2,2332.7 1077.8,2333 1080.4,2333.3 1083,2333.4 1085.6,2333.4 1088.2,2333.7 1090.8,2333.9 1093.4,2333.3 1096,2332.3 1098.6,2332.3 1101.2,2332.6 1103.8,2332.9 1106.4,2332.8 1109.1,2333.1 1111.7,2333.5 1114.3,2333.2 1116.9,2332.8 1119.5,2332.5 1122.1,2332.5 1124.7,2332.5 1127.3,2332.7 1129.9,2333 1132.5,2333.5 1135.1,2334 1137.7,2334 1140.3,2333.4 1143,2332.7 1145.6,2332.6 1148.2,2332.8 1150.8,2333 1153.4,2332.7 1156,2332.7 1158.6,2333.3 1161.2,2333.5 1163.8,2333.2 1166.4,2332.7 1169,2332.9 1171.6,2332.7 1174.2,2332.1 1176.9,2331.8 1179.5,2332.1 1182.1,2332.4 1184.7,2332.3 1187.3,2332.1 1189.9,2332.2 1192.5,2332.4 1195.1,2332.3 1197.7,2332.1 1200.3,2332.3 1202.9,2332.7 1205.5,2332.5 1208.1,2332.2 1210.8,2332.3 1213.4,2332.9 1216,2332.6 1218.6,2332.6 1221.2,2332.5 1223.8,2332.8 1226.4,2332.9 1229,2332.8 1231.6,2332.5 1234.2,2332.3 1236.8,2332.7 1239.4,2332.8 1242,2332.4 1244.7,2332 1247.3,2332.3 1249.9,2333 1252.5,2333.1 1255.1,2332.8 1257.7,2332.5 1260.3,2332.6" stroke="#d633ff" stroke-width="5.2" />
</g>
<clipPath id="i2"><rect x="1565.2" y="2149.5" width="700" height="208.5"/></clipPath>
<g clip-path="url(#i2)" fill="none" stroke-linejoin="round">
<path d="M1566.2,2357 1579.3,2352.3 1592.4,2347.6 1605.4,2343 1618.5,2338.3 1631.6,2333.7 1644.6,2329.2 1657.7,2324.7 1670.8,2320.2 1683.8,2315.7 1696.9,2311.3 1709.9,2306.8 1723,2302.4 1736.1,2298 1749.1,2293.7 1762.2,2289.4 1775.3,2285.2 1788.3,2281.1 1801.4,2277.1 1814.5,2273.2 1827.5,2269.4 1840.6,2265.7 1853.6,2262 1866.7,2258.4 1879.8,2254.7 1892.8,2251.1 1905.9,2247.4 1919,2243.8 1932,2240.2 1945.1,2236.6 1958.2,2232.9 1971.2,2229.1 1984.3,2225.2 1997.3,2221.3 2010.4,2217.4 2023.5,2213.5 2036.5,2209.5 2049.6,2205.6 2062.7,2201.6 2075.7,2197.7 2088.8,2193.7 2101.8,2189.8 2114.9,2185.9 2128,2182 2141,2178.2 2154.1,2174.4 2167.2,2170.8 2180.2,2167.3 2193.3,2163.9 2206.4,2160.6 2206.4,2160.6 2208.3,2160 2210.2,2159.7 2212.2,2159.4 2214.1,2160.5 2216.1,2162.7 2218,2165.5 2219.9,2168.3 2221.9,2170.9 2223.8,2173.7 2225.8,2176.8 2227.7,2180.2 2229.7,2183.6 2231.6,2187.1 2233.5,2190.7 2235.5,2194.2 2237.4,2197.8 2239.4,2201.3 2241.3,2204.5 2243.3,2207.8 2245.2,2211 2247.1,2214.3 2249.1,2217.6 2251,2220.9 2253,2224.1 2254.9,2227.3 2256.8,2230.3 2258.8,2233.2 2260.7,2236.2 2262.7,2239.2 2264.6,2242.2 2266.6,2245.2 2268.5,2248.2 2270.4,2251.2 2272.4,2254.2 2274.3,2257.2 2276.3,2259.9 2278.2,2262.6 2280.1,2265.3 2282.1,2268.1 2284,2270.8 2286,2273.3 2287.9,2275.8 2289.9,2278 2291.8,2280.1 2293.7,2281.8 2295.7,2282.9 2297.6,2283.7 2299.6,2284 2301.5,2283.6 2303.5,2282.9 2305.4,2281.9 2307.3,2280.3 2309.3,2278.7 2311.2,2277.4 2313.2,2276.1 2315.1,2274.9 2317,2273.6 2319,2272.3 2320.9,2271 2322.9,2269.8 2324.8,2268.6 2326.8,2267.4 2328.7,2266.3 2330.6,2265.2 2332.6,2264.2 2334.5,2263.1 2336.5,2262.1 2338.4,2261.2 2340.3,2260.3 2342.3,2259.3 2344.2,2258.4 2346.2,2257.4 2348.1,2256.5 2350.1,2255.5 2352,2254.6 2353.9,2253.6 2355.9,2252.7 2357.8,2251.8 2359.8,2250.9 2361.7,2250 2363.7,2249 2365.6,2248.1 2367.5,2247.1 2369.5,2246.3 2371.4,2245.6 2373.4,2245 2375.3,2244.6 2377.2,2244.4 2379.2,2244.2 2381.1,2244.1 2383.1,2244.1 2385,2244.2 2387,2244.4 2388.9,2244.7 2390.8,2245 2392.8,2245.3 2394.7,2245.8 2396.7,2246.2 2398.6,2246.7 2400.5,2247.2 2402.5,2247.8 2404.4,2248.4 2406.4,2248.9 2408.3,2249.4 2410.3,2249.9 2412.2,2250.4 2414.1,2250.9 2416.1,2251.4 2418,2251.8 2420,2252.2 2421.9,2252.5 2423.9,2252.9 2425.8,2253.2 2427.7,2253.4 2429.7,2253.6 2431.6,2253.9 2433.6,2254 2435.5,2254.2 2437.4,2254.3 2439.4,2254.4 2441.3,2254.4 2443.3,2254.5 2445.2,2254.5 2447.2,2254.6 2449.1,2254.6 2451,2254.5 2453,2254.5 2454.9,2254.5 2456.9,2254.4 2458.8,2254.4 2460.7,2254.4 2462.7,2254.3 2464.6,2254.3 2466.6,2254.2 2468.5,2254.2 2470.5,2254.1 2472.4,2254.1 2474.3,2254 2476.3,2254 2478.2,2253.9 2480.2,2253.9 2482.1,2253.8 2484.1,2253.8 2486,2253.8 2487.9,2253.7 2489.9,2253.7 2491.8,2253.7 2493.8,2253.6 2495.7,2253.6 2497.6,2253.6 2499.6,2253.6 2501.5,2253.5 2503.5,2253.5 2505.4,2253.5 2507.4,2253.5 2509.3,2253.5 2511.2,2253.5 2513.2,2253.4 2515.1,2253.4 2404.5,2253.2" stroke="#ff0000" stroke-width="2.6" />
<path d="M1566.2,2357 1640.2,2165.2 1642.9,2158.1 1645.7,2169.7 1682.2,2322.9 1685,2334.6 1686.1,2334.9 1687.6,2335.2 1688.8,2335.4 1691.6,2327.8 1744.6,2181.3 1747.4,2173.8 1750.2,2184.8 1782.9,2315.7 1785.7,2326.8 1788.5,2319 1832.9,2193.9 1835.7,2186.2 1838.5,2197.7 1862.3,2296.8 1865.1,2308.4 1866.2,2308.7 1867.6,2309 1868.7,2309.2 1871.5,2301.3 1904.2,2208 1907,2200.2 1909.8,2210.3 1930.9,2287.7 1933.7,2297.9 1934.4,2298.2 1935.4,2298.5 1936.2,2298.7 1939,2290.8 1963.7,2220.4 1966.5,2212.5 1967.6,2212.2 1969.1,2211.9 1970.3,2211.8 1973.1,2223.2 1987.4,2281.9 1990.2,2293.2 1993,2285.7 2013.7,2229.5 2016.5,2221.9 2017.6,2221.7 2019.1,2221.4 2020.3,2221.3 2023.1,2231.8 2034.2,2274 2037,2284.4 2039.8,2276.4 2054.9,2232.6 2057.7,2224.6 2060.5,2234.3 2068.8,2263.2 2071.5,2272.9 2072.7,2273.2 2074.2,2273.5 2075.3,2273.7 2078.1,2265.9 2086.2,2243.2 2089,2235.4 2089.8,2235.2 2090.8,2235.1 2091.5,2235 2094.1,2245.5 2097.6,2259.5 2100.2,2269.8 2103,2262.9 2109.3,2247.1 2112.1,2240.1 2114.7,2247.5 2118.2,2257.5 2120.9,2264.9 2123.3,2258.8 2126.5,2250.5 2129,2244.4 2130.5,2248 2132.5,2252.8 2134,2256.5 2136.1,2254.5 2139,2252 2141.1,2250 2142.7,2251.9 2144.9,2254.4 2146.6,2256.2 2148.1,2254.9 2150.1,2253.2 2151.6,2252 2153.3,2252.5 2155.5,2253.2 2157.2,2253.8 2159.3,2253.6 2164.2,2253.2 2264.8,2253.2" stroke="#0000ff" stroke-width="2.6" />
<path d="M1566.2,2357 1574.4,2352.6 1582.5,2348.3 1590.7,2344.1 1598.8,2339.9 1607,2335.8 1615.1,2331.8 1623.3,2327.9 1631.4,2324.1 1639.6,2320.3 1647.7,2316.7 1655.9,2313 1664,2309.4 1672.1,2305.9 1680.3,2302.4 1688.4,2298.9 1696.6,2295.4 1704.7,2291.9 1712.9,2288.4 1721,2285 1729.2,2281.6 1737.3,2278.2 1745.5,2275 1753.6,2271.7 1761.8,2268.5 1769.9,2265.4 1778,2262.3 1786.2,2259.2 1794.3,2256.2 1802.5,2253.2 2264.8,2253.2" stroke="#00dc00" stroke-width="2.6" />
<path d="M1566.2,2357 1573.3,2348.8 1580.4,2340.8 1587.4,2333.1 1594.5,2325.6 1601.5,2318.5 1608.6,2311.7 1615.6,2305 1622.7,2298.3 1629.7,2291.6 1636.8,2284.6 1643.8,2277.4 1650.9,2270.5 1657.9,2264.2 1665,2258.5 1672,2253.2 2264.8,2253.2" stroke="#d633ff" stroke-width="2.8" />
</g>
<rect x="1566.2" y="2149.5" width="698.5" height="207.5" fill="none" stroke="#000" stroke-width="1.4"/>
<path d="M1636.1,2357v-3.5M1706,2357v-6M1775.8,2357v-3.5M1845.7,2357v-6M1915.5,2357v-3.5M1985.3,2357v-6M2055.2,2357v-3.5M2125,2357v-6M2194.9,2357v-3.5M1566.2,2331.1h6M1566.2,2279.2h6M1566.2,2227.3h6M1566.2,2175.4h6M1566.2,2305.1h3.5M1566.2,2253.2h3.5M1566.2,2201.4h3.5" stroke="#000" stroke-width="1.4" fill="none"/>
<g font-family="'Liberation Serif',serif" font-size="23.8" fill="#000">
<text x="1560" y="2338.3" text-anchor="end">400</text>
<text x="1560" y="2286.4" text-anchor="end">800</text>
<text x="1560" y="2234.5" text-anchor="end">1200</text>
<text x="1560" y="2182.7" text-anchor="end">1600</text>
<text x="1566.2" y="2382.2" text-anchor="middle">2.0</text>
<text x="1706" y="2382.2" text-anchor="middle">2.1</text>
<text x="1845.7" y="2382.2" text-anchor="middle">2.2</text>
<text x="1985.3" y="2382.2" text-anchor="middle">2.3</text>
<text x="2125" y="2382.2" text-anchor="middle">2.4</text>
<text x="2264.8" y="2382.2" text-anchor="middle">2.5</text>
</g>
<ellipse cx="1349.6" cy="2079.2" rx="153.5" ry="300.8" fill="none" stroke="#000" stroke-width="5"/>
<path d="M1456,2300H1516.8" fill="none" stroke="#000" stroke-width="4.4"/>
<path d="M1502.6,2283.5L1517.9,2300L1502.6,2316.5" fill="none" stroke="#000" stroke-width="5" stroke-linejoin="miter"/>
<rect x="1998.4" y="1771.4" width="318.6" height="226.2" fill="#fff" stroke="#000" stroke-width="2.6"/>
<path d="M2004.3,1803H2107.1" stroke="#ff0000" stroke-width="4"/>
<path d="M2004.3,1858H2107.1" stroke="#0000ff" stroke-width="4"/>
<path d="M2004.3,1913H2107.1" stroke="#00dc00" stroke-width="4"/>
<path d="M2004.3,1967.7H2107.1" stroke="#d633ff" stroke-width="4"/>
<g font-family="'Liberation Serif',serif" font-size="49" fill="#000" stroke="#000" stroke-width="0.5">
<text x="2118.6" y="1818.6" textLength="95.2" lengthAdjust="spacingAndGlyphs">SMC</text>
<text x="2118.6" y="1873.5" textLength="110.2" lengthAdjust="spacingAndGlyphs">ISMC</text>
<text x="2118.6" y="1928.3" textLength="137.9" lengthAdjust="spacingAndGlyphs">ITSMC</text>
<text x="2118.6" y="1982.4" textLength="191.4" lengthAdjust="spacingAndGlyphs">ITFTSMC</text>
</g>
<rect x="2319.3" y="1771.2" width="42" height="630.8" fill="#fff"/>
<path d="M201.3,1771.2H2319.3V2404" fill="none" stroke="#000" stroke-width="4" stroke-linejoin="miter"/>
<g font-family="'Liberation Serif',serif" font-size="51" fill="#000">
<text x="184.6" y="2416.4" text-anchor="end" textLength="26" lengthAdjust="spacingAndGlyphs">0</text>
<text x="184.6" y="2276.2" text-anchor="end" textLength="78" lengthAdjust="spacingAndGlyphs">400</text>
<text x="184.6" y="2136" text-anchor="end" textLength="78" lengthAdjust="spacingAndGlyphs">800</text>
<text x="184.6" y="1995.9" text-anchor="end" textLength="104" lengthAdjust="spacingAndGlyphs">1200</text>
<text x="184.6" y="1855.7" text-anchor="end" textLength="104" lengthAdjust="spacingAndGlyphs">1600</text>
<text x="203.3" y="2460" text-anchor="middle" textLength="26" lengthAdjust="spacingAndGlyphs">0</text>
<text x="1261.3" y="2460" text-anchor="middle" textLength="26" lengthAdjust="spacingAndGlyphs">2</text>
<text x="2319.3" y="2460" text-anchor="middle" textLength="26" lengthAdjust="spacingAndGlyphs">4</text>
</g>
<text font-family="'Liberation Serif',serif" x="1265.9" y="2527.5" font-size="49" text-anchor="middle" textLength="149" lengthAdjust="spacingAndGlyphs">time (s)</text>
<text font-family="'Liberation Serif',serif" transform="translate(53.3,2109.3) rotate(-90)" font-size="52.5" text-anchor="middle" textLength="155" lengthAdjust="spacingAndGlyphs">n (rpm)</text>
</g>
</svg>
</body>
</html>
